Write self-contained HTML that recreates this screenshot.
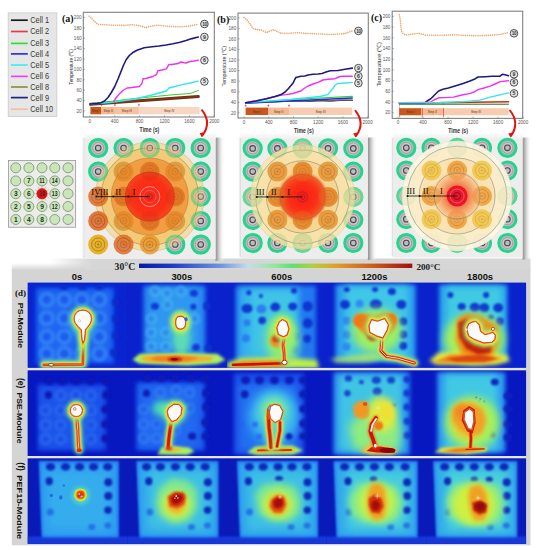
<!DOCTYPE html>
<html><head><meta charset="utf-8"><style>
html,body{margin:0;padding:0;background:#fff;width:538px;height:550px;overflow:hidden}
svg{display:block}
text{font-family:"Liberation Sans", sans-serif}
.se{font-family:"Liberation Serif", serif}
</style></head><body>
<svg width="538" height="550" viewBox="0 0 538 550">
<defs>
<filter id="b1" filterUnits="userSpaceOnUse" x="-600" y="-600" width="1800" height="1800"><feGaussianBlur stdDeviation="1"/></filter>
<filter id="b2" filterUnits="userSpaceOnUse" x="-600" y="-600" width="1800" height="1800"><feGaussianBlur stdDeviation="2"/></filter>
<filter id="b3" filterUnits="userSpaceOnUse" x="-600" y="-600" width="1800" height="1800"><feGaussianBlur stdDeviation="3"/></filter>
<filter id="b4" filterUnits="userSpaceOnUse" x="-600" y="-600" width="1800" height="1800"><feGaussianBlur stdDeviation="4.5"/></filter>
<filter id="b6" filterUnits="userSpaceOnUse" x="-600" y="-600" width="1800" height="1800"><feGaussianBlur stdDeviation="7"/></filter>
<filter id="b05" filterUnits="userSpaceOnUse" x="-600" y="-600" width="1800" height="1800"><feGaussianBlur stdDeviation="0.5"/></filter>
<filter id="b15" filterUnits="userSpaceOnUse" x="-600" y="-600" width="1800" height="1800"><feGaussianBlur stdDeviation="1.5"/></filter>
<linearGradient id="cbar" x1="0" x2="1" y1="0" y2="0">
 <stop offset="0" stop-color="#0a1a9a"/>
 <stop offset="0.12" stop-color="#1a3cc8"/>
 <stop offset="0.3" stop-color="#6f95de"/>
 <stop offset="0.4" stop-color="#c8dcea"/>
 <stop offset="0.5" stop-color="#8fe89a"/>
 <stop offset="0.56" stop-color="#5ee070"/>
 <stop offset="0.64" stop-color="#b8cc3a"/>
 <stop offset="0.72" stop-color="#e0a02a"/>
 <stop offset="0.86" stop-color="#cc5a1a"/>
 <stop offset="1" stop-color="#a01010"/>
</linearGradient>
</defs>
<rect width="538" height="550" fill="#fff"/>

<rect x="8.2" y="12.9" width="48.6" height="103.5" fill="#e6e6e6" stroke="#c8c8c8" stroke-width="0.8"/>
<line x1="10.9" y1="20.2" x2="27.8" y2="20.2" stroke="#1a1a1a" stroke-width="1.7"/>
<text x="30.2" y="23.2" font-size="8.6" fill="#383838" transform="translate(30.2 0) scale(0.86 1) translate(-30.2 0)">Cell 1</text>
<line x1="10.9" y1="31.5" x2="27.8" y2="31.5" stroke="#e04040" stroke-width="1.7"/>
<text x="30.2" y="34.5" font-size="8.6" fill="#383838" transform="translate(30.2 0) scale(0.86 1) translate(-30.2 0)">Cell 2</text>
<line x1="10.9" y1="43.4" x2="27.8" y2="43.4" stroke="#30e030" stroke-width="1.7"/>
<text x="30.2" y="46.4" font-size="8.6" fill="#383838" transform="translate(30.2 0) scale(0.86 1) translate(-30.2 0)">Cell 3</text>
<line x1="10.9" y1="53.9" x2="27.8" y2="53.9" stroke="#3030e0" stroke-width="1.7"/>
<text x="30.2" y="56.9" font-size="8.6" fill="#383838" transform="translate(30.2 0) scale(0.86 1) translate(-30.2 0)">Cell 4</text>
<line x1="10.9" y1="65.0" x2="27.8" y2="65.0" stroke="#40f0f0" stroke-width="1.7"/>
<text x="30.2" y="68.0" font-size="8.6" fill="#383838" transform="translate(30.2 0) scale(0.86 1) translate(-30.2 0)">Cell 5</text>
<line x1="10.9" y1="76.4" x2="27.8" y2="76.4" stroke="#f040f0" stroke-width="1.7"/>
<text x="30.2" y="79.4" font-size="8.6" fill="#383838" transform="translate(30.2 0) scale(0.86 1) translate(-30.2 0)">Cell 6</text>
<line x1="10.9" y1="87.0" x2="27.8" y2="87.0" stroke="#909040" stroke-width="1.7"/>
<text x="30.2" y="90.0" font-size="8.6" fill="#383838" transform="translate(30.2 0) scale(0.86 1) translate(-30.2 0)">Cell 8</text>
<line x1="10.9" y1="97.6" x2="27.8" y2="97.6" stroke="#202088" stroke-width="1.7"/>
<text x="30.2" y="100.6" font-size="8.6" fill="#383838" transform="translate(30.2 0) scale(0.86 1) translate(-30.2 0)">Cell 9</text>
<line x1="10.9" y1="109.2" x2="27.8" y2="109.2" stroke="#f0c0a0" stroke-width="1.7"/>
<text x="30.2" y="112.2" font-size="8.6" fill="#383838" transform="translate(30.2 0) scale(0.86 1) translate(-30.2 0)">Cell 10</text>
<rect x="83.3" y="12.3" width="131.0" height="104.7" fill="#fff" stroke="#808080" stroke-width="1.1"/>
<line x1="83.3" y1="111.00" x2="84.89999999999999" y2="111.00" stroke="#777" stroke-width="0.6"/>
<text x="81.5" y="112.70" font-size="4.6" fill="#555" text-anchor="end">20</text>
<line x1="83.3" y1="100.60" x2="84.89999999999999" y2="100.60" stroke="#777" stroke-width="0.6"/>
<text x="81.5" y="102.30" font-size="4.6" fill="#555" text-anchor="end">40</text>
<line x1="83.3" y1="90.20" x2="84.89999999999999" y2="90.20" stroke="#777" stroke-width="0.6"/>
<text x="81.5" y="91.90" font-size="4.6" fill="#555" text-anchor="end">60</text>
<line x1="83.3" y1="79.80" x2="84.89999999999999" y2="79.80" stroke="#777" stroke-width="0.6"/>
<text x="81.5" y="81.50" font-size="4.6" fill="#555" text-anchor="end">80</text>
<line x1="83.3" y1="69.40" x2="84.89999999999999" y2="69.40" stroke="#777" stroke-width="0.6"/>
<text x="81.5" y="71.10" font-size="4.6" fill="#555" text-anchor="end">100</text>
<line x1="83.3" y1="59.00" x2="84.89999999999999" y2="59.00" stroke="#777" stroke-width="0.6"/>
<text x="81.5" y="60.70" font-size="4.6" fill="#555" text-anchor="end">120</text>
<line x1="83.3" y1="48.60" x2="84.89999999999999" y2="48.60" stroke="#777" stroke-width="0.6"/>
<text x="81.5" y="50.30" font-size="4.6" fill="#555" text-anchor="end">140</text>
<line x1="83.3" y1="38.20" x2="84.89999999999999" y2="38.20" stroke="#777" stroke-width="0.6"/>
<text x="81.5" y="39.90" font-size="4.6" fill="#555" text-anchor="end">160</text>
<line x1="83.3" y1="27.80" x2="84.89999999999999" y2="27.80" stroke="#777" stroke-width="0.6"/>
<text x="81.5" y="29.50" font-size="4.6" fill="#555" text-anchor="end">180</text>
<line x1="83.3" y1="17.40" x2="84.89999999999999" y2="17.40" stroke="#777" stroke-width="0.6"/>
<text x="81.5" y="19.10" font-size="4.6" fill="#555" text-anchor="end">200</text>
<line x1="89.80" y1="117.0" x2="89.80" y2="115.4" stroke="#777" stroke-width="0.6"/>
<text x="89.80" y="122.8" font-size="4.6" fill="#555" text-anchor="middle">0</text>
<line x1="114.70" y1="117.0" x2="114.70" y2="115.4" stroke="#777" stroke-width="0.6"/>
<text x="114.70" y="122.8" font-size="4.6" fill="#555" text-anchor="middle">400</text>
<line x1="139.60" y1="117.0" x2="139.60" y2="115.4" stroke="#777" stroke-width="0.6"/>
<text x="139.60" y="122.8" font-size="4.6" fill="#555" text-anchor="middle">800</text>
<line x1="164.50" y1="117.0" x2="164.50" y2="115.4" stroke="#777" stroke-width="0.6"/>
<text x="164.50" y="122.8" font-size="4.6" fill="#555" text-anchor="middle">1200</text>
<line x1="189.40" y1="117.0" x2="189.40" y2="115.4" stroke="#777" stroke-width="0.6"/>
<text x="189.40" y="122.8" font-size="4.6" fill="#555" text-anchor="middle">1600</text>
<line x1="214.30" y1="117.0" x2="214.30" y2="115.4" stroke="#777" stroke-width="0.6"/>
<text x="214.30" y="122.8" font-size="4.6" fill="#555" text-anchor="middle">2000</text>
<g transform="translate(149.4 131.6) scale(0.78 1)"><text x="0" y="0" font-size="6.6" font-weight="bold" fill="#333" text-anchor="middle">Time (s)</text></g>
<g transform="translate(72.9 66.8) rotate(-90) scale(0.81 1)"><text x="0" y="0" font-size="5.9" fill="#333" text-anchor="middle">Temperature (&#8451;)</text></g>
<text class="se" x="62" y="22" font-size="10" font-weight="bold" fill="#111">(a)</text>
<rect x="90.4" y="106.9" width="11.0" height="7.3999999999999915" fill="#c8581e"/>
<text x="95.9" y="111.8" font-size="3.2" fill="#5a3010" text-anchor="middle">Step I</text>
<rect x="101.4" y="106.9" width="13.5" height="7.3999999999999915" fill="#f4b892"/>
<text x="108.2" y="111.8" font-size="3.2" fill="#5a3010" text-anchor="middle">Step II</text>
<rect x="114.9" y="106.9" width="24.0" height="7.3999999999999915" fill="#f6c2a4"/>
<text x="126.9" y="111.8" font-size="3.2" fill="#5a3010" text-anchor="middle">Step III</text>
<rect x="138.9" y="106.9" width="60.599999999999994" height="7.3999999999999915" fill="#f9d6c2"/>
<text x="169.2" y="111.8" font-size="3.2" fill="#5a3010" text-anchor="middle">Step IV</text>
<path d="M90.4 103.7 v2.4 M89.4 104.9 h2" stroke="#e03030" stroke-width="0.6"/>
<path d="M101.4 103.7 v2.4 M100.4 104.9 h2" stroke="#e03030" stroke-width="0.6"/>
<path d="M114.9 103.7 v2.4 M113.9 104.9 h2" stroke="#e03030" stroke-width="0.6"/>
<path d="M138.9 103.7 v2.4 M137.9 104.9 h2" stroke="#e03030" stroke-width="0.6"/>
<path d="M89.1 16.1 L91.0 17.5 L94.0 21.0 L97.7 24.2 L105.0 24.8 L115.0 25.3 L125.0 25.4 L132.0 24.7 L140.0 25.8 L145.6 27.7 L150.0 26.4 L156.6 25.2 L165.0 26.0 L172.0 26.6 L181.0 26.8 L190.0 26.0 L198.3 24.2" fill="none" stroke="#f0a468" stroke-width="1.6" stroke-linejoin="round" stroke-linecap="round" stroke-dasharray="0.01 2.1"/>
<path d="M90.4 104.2 L198.3 96.5" fill="none" stroke="#5a3a10" stroke-width="3.0" stroke-linejoin="round" stroke-linecap="round"/>
<path d="M90.4 104.2 L198.3 96.5" fill="none" stroke="#b02020" stroke-width="1.2" stroke-linejoin="round" stroke-linecap="round"/>
<path d="M90.4 104.0 L130.0 99.0 L170.0 95.0 L190.0 93.5 L198.3 90.5" fill="none" stroke="#30d030" stroke-width="1.0" stroke-linejoin="round" stroke-linecap="round"/>
<path d="M90.4 104.0 L110.0 102.5 L132.0 99.5 L150.0 95.5 L166.4 91.0 L168.9 88.0 L175.0 86.5 L181.0 84.8 L190.0 83.0 L198.3 81.1" fill="none" stroke="#30e8e8" stroke-width="1.3" stroke-linejoin="round" stroke-linecap="round"/>
<path d="M113.7 101.3 L116.0 98.0 L119.8 93.4 L123.0 90.5 L127.2 88.0 L132.0 87.5 L139.4 86.5 L141.9 83.6 L143.1 78.7 L146.0 78.5 L149.2 77.5 L153.0 76.5 L156.6 74.3 L157.8 70.8 L162.0 70.0 L166.4 68.9 L168.9 64.5 L172.0 64.5 L175.0 64.0 L178.0 63.5 L181.0 62.0 L184.0 62.8 L186.0 63.0 L190.0 61.5 L194.0 61.0 L198.3 60.3" fill="none" stroke="#f030f0" stroke-width="1.4" stroke-linejoin="round" stroke-linecap="round"/>
<path d="M90.4 104.0 L97.0 103.6 L101.0 102.8 L104.5 101.0 L108.0 97.5 L111.0 93.0 L114.5 87.0 L118.0 79.0 L121.0 71.5 L123.6 65.0 L126.3 59.5 L129.3 55.5 L132.5 52.8 L137.0 50.2 L144.2 47.8 L152.0 46.8 L159.0 46.0 L166.0 45.0 L173.0 43.8 L180.0 42.3 L186.0 40.6 L192.0 38.6 L198.3 37.0" fill="none" stroke="#1c1c80" stroke-width="1.6" stroke-linejoin="round" stroke-linecap="round"/>
<circle cx="204.4" cy="24" r="3.8" fill="#e4e4e4" stroke="#505050" stroke-width="1.0"/>
<text x="204.4" y="25.9" font-size="4.6" font-weight="bold" fill="#333" text-anchor="middle" letter-spacing="-0.4">10</text>
<circle cx="204.4" cy="37" r="3.8" fill="#e4e4e4" stroke="#505050" stroke-width="1.0"/>
<text x="204.4" y="38.9" font-size="5.2" font-weight="bold" fill="#333" text-anchor="middle">9</text>
<circle cx="204.4" cy="60.3" r="3.8" fill="#e4e4e4" stroke="#505050" stroke-width="1.0"/>
<text x="204.4" y="62.199999999999996" font-size="5.2" font-weight="bold" fill="#333" text-anchor="middle">6</text>
<circle cx="204.4" cy="81.5" r="3.8" fill="#e4e4e4" stroke="#505050" stroke-width="1.0"/>
<text x="204.4" y="83.4" font-size="5.2" font-weight="bold" fill="#333" text-anchor="middle">5</text>
<rect x="238.0" y="13.1" width="130.3" height="104.9" fill="#fff" stroke="#808080" stroke-width="1.1"/>
<line x1="238.0" y1="112.80" x2="239.6" y2="112.80" stroke="#777" stroke-width="0.6"/>
<text x="236.2" y="114.50" font-size="4.6" fill="#555" text-anchor="end">20</text>
<line x1="238.0" y1="102.25" x2="239.6" y2="102.25" stroke="#777" stroke-width="0.6"/>
<text x="236.2" y="103.95" font-size="4.6" fill="#555" text-anchor="end">40</text>
<line x1="238.0" y1="91.69" x2="239.6" y2="91.69" stroke="#777" stroke-width="0.6"/>
<text x="236.2" y="93.39" font-size="4.6" fill="#555" text-anchor="end">60</text>
<line x1="238.0" y1="81.14" x2="239.6" y2="81.14" stroke="#777" stroke-width="0.6"/>
<text x="236.2" y="82.84" font-size="4.6" fill="#555" text-anchor="end">80</text>
<line x1="238.0" y1="70.58" x2="239.6" y2="70.58" stroke="#777" stroke-width="0.6"/>
<text x="236.2" y="72.28" font-size="4.6" fill="#555" text-anchor="end">100</text>
<line x1="238.0" y1="60.02" x2="239.6" y2="60.02" stroke="#777" stroke-width="0.6"/>
<text x="236.2" y="61.72" font-size="4.6" fill="#555" text-anchor="end">120</text>
<line x1="238.0" y1="49.47" x2="239.6" y2="49.47" stroke="#777" stroke-width="0.6"/>
<text x="236.2" y="51.17" font-size="4.6" fill="#555" text-anchor="end">140</text>
<line x1="238.0" y1="38.91" x2="239.6" y2="38.91" stroke="#777" stroke-width="0.6"/>
<text x="236.2" y="40.61" font-size="4.6" fill="#555" text-anchor="end">160</text>
<line x1="238.0" y1="28.36" x2="239.6" y2="28.36" stroke="#777" stroke-width="0.6"/>
<text x="236.2" y="30.06" font-size="4.6" fill="#555" text-anchor="end">180</text>
<line x1="238.0" y1="17.80" x2="239.6" y2="17.80" stroke="#777" stroke-width="0.6"/>
<text x="236.2" y="19.50" font-size="4.6" fill="#555" text-anchor="end">200</text>
<line x1="244.10" y1="118.0" x2="244.10" y2="116.4" stroke="#777" stroke-width="0.6"/>
<text x="244.10" y="123.8" font-size="4.6" fill="#555" text-anchor="middle">0</text>
<line x1="268.80" y1="118.0" x2="268.80" y2="116.4" stroke="#777" stroke-width="0.6"/>
<text x="268.80" y="123.8" font-size="4.6" fill="#555" text-anchor="middle">400</text>
<line x1="293.50" y1="118.0" x2="293.50" y2="116.4" stroke="#777" stroke-width="0.6"/>
<text x="293.50" y="123.8" font-size="4.6" fill="#555" text-anchor="middle">800</text>
<line x1="318.20" y1="118.0" x2="318.20" y2="116.4" stroke="#777" stroke-width="0.6"/>
<text x="318.20" y="123.8" font-size="4.6" fill="#555" text-anchor="middle">1200</text>
<line x1="342.90" y1="118.0" x2="342.90" y2="116.4" stroke="#777" stroke-width="0.6"/>
<text x="342.90" y="123.8" font-size="4.6" fill="#555" text-anchor="middle">1600</text>
<line x1="367.60" y1="118.0" x2="367.60" y2="116.4" stroke="#777" stroke-width="0.6"/>
<text x="367.60" y="123.8" font-size="4.6" fill="#555" text-anchor="middle">2000</text>
<g transform="translate(303.8 132.6) scale(0.78 1)"><text x="0" y="0" font-size="6.6" font-weight="bold" fill="#333" text-anchor="middle">Time (s)</text></g>
<g transform="translate(226.0 66.2) rotate(-90) scale(0.9 1)"><text x="0" y="0" font-size="5.9" fill="#333" text-anchor="middle">Temperature (&#8451;)</text></g>
<text class="se" x="217" y="22.5" font-size="10" font-weight="bold" fill="#111">(b)</text>
<rect x="245.6" y="107.6" width="22.799999999999983" height="7.400000000000006" fill="#c8581e"/>
<text x="257.0" y="112.5" font-size="3.2" fill="#5a3010" text-anchor="middle">Step I</text>
<rect x="268.4" y="107.6" width="20.600000000000023" height="7.400000000000006" fill="#f4b892"/>
<text x="278.7" y="112.5" font-size="3.2" fill="#5a3010" text-anchor="middle">Step II</text>
<rect x="289.0" y="107.6" width="63.30000000000001" height="7.400000000000006" fill="#f8ccb0"/>
<text x="320.6" y="112.5" font-size="3.2" fill="#5a3010" text-anchor="middle">Step III</text>
<path d="M245.6 104.39999999999999 v2.4 M244.6 105.6 h2" stroke="#e03030" stroke-width="0.6"/>
<path d="M268.4 104.39999999999999 v2.4 M267.4 105.6 h2" stroke="#e03030" stroke-width="0.6"/>
<path d="M289.0 104.39999999999999 v2.4 M288.0 105.6 h2" stroke="#e03030" stroke-width="0.6"/>
<path d="M243.9 17.4 L247.0 20.0 L250.5 24.7 L253.0 28.4 L257.0 29.5 L261.5 30.1 L266.4 32.6 L270.0 31.0 L273.8 29.6 L277.0 31.5 L281.2 33.3 L290.0 33.2 L298.3 32.6 L305.0 33.3 L311.0 33.6 L320.0 34.0 L330.2 34.5 L340.0 34.0 L345.0 33.5 L352.3 30.9" fill="none" stroke="#f0a468" stroke-width="1.6" stroke-linejoin="round" stroke-linecap="round" stroke-dasharray="0.01 2.1"/>
<path d="M245.6 103.0 L290.0 101.0 L300.0 100.6 L310.0 101.2 L320.0 100.5 L330.0 101.0 L340.0 100.2 L352.3 100.3" fill="none" stroke="#333" stroke-width="1.6" stroke-linejoin="round" stroke-linecap="round"/>
<path d="M245.6 103.0 L290.0 101.0 L300.0 100.6 L310.0 101.2 L320.0 100.5 L330.0 101.0 L340.0 100.2 L352.3 100.3" fill="none" stroke="#8a8a8a" stroke-width="0.6" stroke-linejoin="round" stroke-linecap="round"/>
<path d="M245.6 102.7 L300.0 99.0 L352.3 96.4" fill="none" stroke="#30d030" stroke-width="1.1" stroke-linejoin="round" stroke-linecap="round"/>
<path d="M245.6 103.0 L300.0 100.5 L352.3 98.0" fill="none" stroke="#2a2ad8" stroke-width="1.3" stroke-linejoin="round" stroke-linecap="round"/>
<path d="M245.6 102.7 L290.0 99.5 L320.0 96.5 L327.8 94.6 L330.0 92.0 L332.7 88.5 L335.0 85.5 L337.6 83.6 L345.0 83.0 L352.3 82.4" fill="none" stroke="#30e8e8" stroke-width="1.3" stroke-linejoin="round" stroke-linecap="round"/>
<path d="M245.6 102.7 L266.4 98.8 L281.2 95.0 L286.1 94.6 L293.0 93.5 L300.8 91.0 L304.0 88.5 L308.1 86.0 L313.0 84.0 L318.0 82.4 L322.9 80.0 L328.0 79.3 L335.1 78.7 L340.0 76.5 L343.0 76.2 L352.3 76.2" fill="none" stroke="#f030f0" stroke-width="1.4" stroke-linejoin="round" stroke-linecap="round"/>
<path d="M245.6 102.7 L256.0 101.0 L266.4 98.8 L275.0 96.5 L281.2 94.6 L285.0 92.0 L288.5 88.5 L291.0 85.5 L293.4 82.4 L295.0 79.0 L295.9 77.5 L300.8 76.2 L305.0 76.0 L308.0 75.0 L313.0 74.3 L318.0 74.0 L322.0 73.5 L326.0 72.0 L330.2 70.8 L338.0 70.5 L345.0 69.2 L352.3 68.1" fill="none" stroke="#1c1c80" stroke-width="1.6" stroke-linejoin="round" stroke-linecap="round"/>
<circle cx="358.4" cy="30.9" r="3.8" fill="#e4e4e4" stroke="#505050" stroke-width="1.0"/>
<text x="358.4" y="32.8" font-size="4.6" font-weight="bold" fill="#333" text-anchor="middle" letter-spacing="-0.4">10</text>
<circle cx="358.4" cy="68.1" r="3.8" fill="#e4e4e4" stroke="#505050" stroke-width="1.0"/>
<text x="358.4" y="70.0" font-size="5.2" font-weight="bold" fill="#333" text-anchor="middle">9</text>
<circle cx="358.4" cy="76.2" r="3.8" fill="#e4e4e4" stroke="#505050" stroke-width="1.0"/>
<text x="358.4" y="78.10000000000001" font-size="5.2" font-weight="bold" fill="#333" text-anchor="middle">6</text>
<circle cx="358.4" cy="83.1" r="3.8" fill="#e4e4e4" stroke="#505050" stroke-width="1.0"/>
<text x="358.4" y="85.0" font-size="5.2" font-weight="bold" fill="#333" text-anchor="middle">5</text>
<rect x="392.2" y="11.2" width="130.50000000000006" height="107.2" fill="#fff" stroke="#808080" stroke-width="1.1"/>
<line x1="392.2" y1="112.70" x2="393.8" y2="112.70" stroke="#777" stroke-width="0.6"/>
<text x="390.4" y="114.40" font-size="4.6" fill="#555" text-anchor="end">20</text>
<line x1="392.2" y1="102.00" x2="393.8" y2="102.00" stroke="#777" stroke-width="0.6"/>
<text x="390.4" y="103.70" font-size="4.6" fill="#555" text-anchor="end">40</text>
<line x1="392.2" y1="91.30" x2="393.8" y2="91.30" stroke="#777" stroke-width="0.6"/>
<text x="390.4" y="93.00" font-size="4.6" fill="#555" text-anchor="end">60</text>
<line x1="392.2" y1="80.60" x2="393.8" y2="80.60" stroke="#777" stroke-width="0.6"/>
<text x="390.4" y="82.30" font-size="4.6" fill="#555" text-anchor="end">80</text>
<line x1="392.2" y1="69.90" x2="393.8" y2="69.90" stroke="#777" stroke-width="0.6"/>
<text x="390.4" y="71.60" font-size="4.6" fill="#555" text-anchor="end">100</text>
<line x1="392.2" y1="59.20" x2="393.8" y2="59.20" stroke="#777" stroke-width="0.6"/>
<text x="390.4" y="60.90" font-size="4.6" fill="#555" text-anchor="end">120</text>
<line x1="392.2" y1="48.50" x2="393.8" y2="48.50" stroke="#777" stroke-width="0.6"/>
<text x="390.4" y="50.20" font-size="4.6" fill="#555" text-anchor="end">140</text>
<line x1="392.2" y1="37.80" x2="393.8" y2="37.80" stroke="#777" stroke-width="0.6"/>
<text x="390.4" y="39.50" font-size="4.6" fill="#555" text-anchor="end">160</text>
<line x1="392.2" y1="27.10" x2="393.8" y2="27.10" stroke="#777" stroke-width="0.6"/>
<text x="390.4" y="28.80" font-size="4.6" fill="#555" text-anchor="end">180</text>
<line x1="392.2" y1="16.40" x2="393.8" y2="16.40" stroke="#777" stroke-width="0.6"/>
<text x="390.4" y="18.10" font-size="4.6" fill="#555" text-anchor="end">200</text>
<line x1="398.10" y1="118.4" x2="398.10" y2="116.80000000000001" stroke="#777" stroke-width="0.6"/>
<text x="398.10" y="124.2" font-size="4.6" fill="#555" text-anchor="middle">0</text>
<line x1="423.10" y1="118.4" x2="423.10" y2="116.80000000000001" stroke="#777" stroke-width="0.6"/>
<text x="423.10" y="124.2" font-size="4.6" fill="#555" text-anchor="middle">400</text>
<line x1="448.10" y1="118.4" x2="448.10" y2="116.80000000000001" stroke="#777" stroke-width="0.6"/>
<text x="448.10" y="124.2" font-size="4.6" fill="#555" text-anchor="middle">800</text>
<line x1="473.10" y1="118.4" x2="473.10" y2="116.80000000000001" stroke="#777" stroke-width="0.6"/>
<text x="473.10" y="124.2" font-size="4.6" fill="#555" text-anchor="middle">1200</text>
<line x1="498.10" y1="118.4" x2="498.10" y2="116.80000000000001" stroke="#777" stroke-width="0.6"/>
<text x="498.10" y="124.2" font-size="4.6" fill="#555" text-anchor="middle">1600</text>
<line x1="523.10" y1="118.4" x2="523.10" y2="116.80000000000001" stroke="#777" stroke-width="0.6"/>
<text x="523.10" y="124.2" font-size="4.6" fill="#555" text-anchor="middle">2000</text>
<g transform="translate(458.1 133.0) scale(0.78 1)"><text x="0" y="0" font-size="6.6" font-weight="bold" fill="#333" text-anchor="middle">Time (s)</text></g>
<g transform="translate(380.7 64.3) rotate(-90) scale(1.0 1)"><text x="0" y="0" font-size="5.9" fill="#333" text-anchor="middle">Temperature (&#8451;)</text></g>
<text class="se" x="371" y="21" font-size="10" font-weight="bold" fill="#111">(c)</text>
<rect x="399.4" y="108.1" width="22.0" height="7.200000000000003" fill="#c8581e"/>
<text x="410.4" y="112.9" font-size="3.2" fill="#5a3010" text-anchor="middle">Step I</text>
<rect x="421.4" y="108.1" width="22.100000000000023" height="7.200000000000003" fill="#f4b892"/>
<text x="432.4" y="112.9" font-size="3.2" fill="#5a3010" text-anchor="middle">Step II</text>
<rect x="443.5" y="108.1" width="65.0" height="7.200000000000003" fill="#f8ccb0"/>
<text x="476.0" y="112.9" font-size="3.2" fill="#5a3010" text-anchor="middle">Step III</text>
<path d="M399.6 103.4 V117.3 M422.3 103.4 V117.3 M443.5 103.4 V117.3" stroke="#e02020" stroke-width="0.6"/>
<rect x="399.6" y="104.4" width="108.9" height="3.7" fill="#fff"/>
<path d="M399.4 14.9 L400.3 20.0 L400.8 26.0 L401.8 32.1 L404.0 34.3 L406.7 35.0 L412.0 34.2 L419.0 33.3 L423.0 34.3 L426.3 35.3 L440.0 35.3 L455.0 34.8 L470.0 35.6 L480.0 35.8 L490.0 35.2 L500.0 34.5 L507.3 32.8" fill="none" stroke="#f0a468" stroke-width="1.6" stroke-linejoin="round" stroke-linecap="round" stroke-dasharray="0.01 2.1"/>
<path d="M399.4 103.3 L508.5 101.8" fill="none" stroke="#c83010" stroke-width="1.6" stroke-linejoin="round" stroke-linecap="round"/>
<path d="M399.4 104.2 L508.5 104.2" fill="none" stroke="#207020" stroke-width="1.0" stroke-linejoin="round" stroke-linecap="round"/>
<path d="M399.4 102.7 L425.1 102.7 L428.0 100.5 L431.3 98.3 L435.0 94.5 L438.6 91.0 L443.0 89.3 L448.4 88.0 L455.0 86.0 L463.1 83.6 L470.0 81.0 L475.4 78.7 L478.0 77.0 L485.2 76.7 L492.0 76.3 L500.0 76.2 L502.4 74.3 L505.0 74.8 L508.5 75.8" fill="none" stroke="#1c1c80" stroke-width="1.6" stroke-linejoin="round" stroke-linecap="round"/>
<path d="M399.4 102.7 L430.0 102.5 L434.0 100.0 L438.6 97.8 L445.0 97.6 L453.3 97.1 L462.0 95.0 L470.5 93.4 L475.0 91.5 L477.9 89.7 L484.0 88.0 L490.1 86.1 L495.0 84.0 L500.0 81.6 L508.5 80.7" fill="none" stroke="#f030f0" stroke-width="1.4" stroke-linejoin="round" stroke-linecap="round"/>
<path d="M399.4 102.7 L440.0 102.5 L465.0 101.6 L480.0 100.2 L490.1 97.1 L500.0 94.8 L508.5 92.9" fill="none" stroke="#30e8e8" stroke-width="1.3" stroke-linejoin="round" stroke-linecap="round"/>
<circle cx="514" cy="33.3" r="3.8" fill="#e4e4e4" stroke="#505050" stroke-width="1.0"/>
<text x="514" y="35.199999999999996" font-size="4.6" font-weight="bold" fill="#333" text-anchor="middle" letter-spacing="-0.4">10</text>
<circle cx="514" cy="74.3" r="3.8" fill="#e4e4e4" stroke="#505050" stroke-width="1.0"/>
<text x="514" y="76.2" font-size="5.2" font-weight="bold" fill="#333" text-anchor="middle">9</text>
<circle cx="514" cy="82.4" r="3.8" fill="#e4e4e4" stroke="#505050" stroke-width="1.0"/>
<text x="514" y="84.30000000000001" font-size="5.2" font-weight="bold" fill="#333" text-anchor="middle">6</text>
<circle cx="514" cy="93.4" r="3.8" fill="#e4e4e4" stroke="#505050" stroke-width="1.0"/>
<text x="514" y="95.30000000000001" font-size="5.2" font-weight="bold" fill="#333" text-anchor="middle">5</text>
<rect x="8.5" y="160.5" width="67.2" height="66.7" fill="#ececec" stroke="#8a8a8a" stroke-width="0.7"/>
<circle cx="15.8" cy="167.8" r="5.0" fill="#c8e6b8" stroke="#7f9a74" stroke-width="0.9"/>
<circle cx="28.9" cy="167.8" r="5.0" fill="#c8e6b8" stroke="#7f9a74" stroke-width="0.9"/>
<circle cx="42.0" cy="167.8" r="5.0" fill="#c8e6b8" stroke="#7f9a74" stroke-width="0.9"/>
<circle cx="54.8" cy="167.8" r="5.0" fill="#c8e6b8" stroke="#7f9a74" stroke-width="0.9"/>
<circle cx="68.0" cy="167.8" r="5.0" fill="#c8e6b8" stroke="#7f9a74" stroke-width="0.9"/>
<circle cx="15.8" cy="180.9" r="5.0" fill="#c8e6b8" stroke="#7f9a74" stroke-width="0.9"/>
<circle cx="28.9" cy="180.9" r="5.0" fill="#c8e6b8" stroke="#7f9a74" stroke-width="0.9"/>
<text x="28.9" y="183.4" font-size="7.0" font-weight="bold" fill="#2a2a2a" text-anchor="middle" transform="translate(28.9 0) scale(0.95 1) translate(-28.9 0)">7</text>
<circle cx="42.0" cy="180.9" r="5.0" fill="#c8e6b8" stroke="#7f9a74" stroke-width="0.9"/>
<text x="42.0" y="183.4" font-size="6.6" font-weight="bold" fill="#2a2a2a" text-anchor="middle" transform="translate(42.0 0) scale(0.8 1) translate(-42.0 0)">11</text>
<circle cx="54.8" cy="180.9" r="5.0" fill="#c8e6b8" stroke="#7f9a74" stroke-width="0.9"/>
<text x="54.8" y="183.4" font-size="6.6" font-weight="bold" fill="#2a2a2a" text-anchor="middle" transform="translate(54.8 0) scale(0.8 1) translate(-54.8 0)">14</text>
<circle cx="68.0" cy="180.9" r="5.0" fill="#c8e6b8" stroke="#7f9a74" stroke-width="0.9"/>
<circle cx="15.8" cy="193.7" r="5.0" fill="#c8e6b8" stroke="#7f9a74" stroke-width="0.9"/>
<text x="15.8" y="196.2" font-size="7.0" font-weight="bold" fill="#2a2a2a" text-anchor="middle" transform="translate(15.8 0) scale(0.95 1) translate(-15.8 0)">3</text>
<circle cx="28.9" cy="193.7" r="5.0" fill="#c8e6b8" stroke="#7f9a74" stroke-width="0.9"/>
<text x="28.9" y="196.2" font-size="7.0" font-weight="bold" fill="#2a2a2a" text-anchor="middle" transform="translate(28.9 0) scale(0.95 1) translate(-28.9 0)">6</text>
<line x1="47.00" y1="193.70" x2="50.00" y2="193.70" stroke="#f08080" stroke-width="0.5"/>
<line x1="46.33" y1="196.20" x2="48.93" y2="197.70" stroke="#f08080" stroke-width="0.5"/>
<line x1="44.50" y1="198.03" x2="46.00" y2="200.63" stroke="#f08080" stroke-width="0.5"/>
<line x1="42.00" y1="198.70" x2="42.00" y2="201.70" stroke="#f08080" stroke-width="0.5"/>
<line x1="39.50" y1="198.03" x2="38.00" y2="200.63" stroke="#f08080" stroke-width="0.5"/>
<line x1="37.67" y1="196.20" x2="35.07" y2="197.70" stroke="#f08080" stroke-width="0.5"/>
<line x1="37.00" y1="193.70" x2="34.00" y2="193.70" stroke="#f08080" stroke-width="0.5"/>
<line x1="37.67" y1="191.20" x2="35.07" y2="189.70" stroke="#f08080" stroke-width="0.5"/>
<line x1="39.50" y1="189.37" x2="38.00" y2="186.77" stroke="#f08080" stroke-width="0.5"/>
<line x1="42.00" y1="188.70" x2="42.00" y2="185.70" stroke="#f08080" stroke-width="0.5"/>
<line x1="44.50" y1="189.37" x2="46.00" y2="186.77" stroke="#f08080" stroke-width="0.5"/>
<line x1="46.33" y1="191.20" x2="48.93" y2="189.70" stroke="#f08080" stroke-width="0.5"/>
<circle cx="42.0" cy="193.7" r="5.2" fill="#e01010" stroke="#c00" stroke-width="0.5"/>
<text x="42.0" y="196.2" font-size="6.6" font-weight="bold" fill="#2a2a2a" text-anchor="middle" transform="translate(42.0 0) scale(0.8 1) translate(-42.0 0)">10</text>
<circle cx="54.8" cy="193.7" r="5.0" fill="#c8e6b8" stroke="#7f9a74" stroke-width="0.9"/>
<text x="54.8" y="196.2" font-size="6.6" font-weight="bold" fill="#2a2a2a" text-anchor="middle" transform="translate(54.8 0) scale(0.8 1) translate(-54.8 0)">13</text>
<circle cx="68.0" cy="193.7" r="5.0" fill="#c8e6b8" stroke="#7f9a74" stroke-width="0.9"/>
<circle cx="15.8" cy="206.5" r="5.0" fill="#c8e6b8" stroke="#7f9a74" stroke-width="0.9"/>
<text x="15.8" y="209.0" font-size="7.0" font-weight="bold" fill="#2a2a2a" text-anchor="middle" transform="translate(15.8 0) scale(0.95 1) translate(-15.8 0)">2</text>
<circle cx="28.9" cy="206.5" r="5.0" fill="#c8e6b8" stroke="#7f9a74" stroke-width="0.9"/>
<text x="28.9" y="209.0" font-size="7.0" font-weight="bold" fill="#2a2a2a" text-anchor="middle" transform="translate(28.9 0) scale(0.95 1) translate(-28.9 0)">5</text>
<circle cx="42.0" cy="206.5" r="5.0" fill="#c8e6b8" stroke="#7f9a74" stroke-width="0.9"/>
<text x="42.0" y="209.0" font-size="7.0" font-weight="bold" fill="#2a2a2a" text-anchor="middle" transform="translate(42.0 0) scale(0.95 1) translate(-42.0 0)">9</text>
<circle cx="54.8" cy="206.5" r="5.0" fill="#c8e6b8" stroke="#7f9a74" stroke-width="0.9"/>
<text x="54.8" y="209.0" font-size="6.6" font-weight="bold" fill="#2a2a2a" text-anchor="middle" transform="translate(54.8 0) scale(0.8 1) translate(-54.8 0)">12</text>
<circle cx="68.0" cy="206.5" r="5.0" fill="#c8e6b8" stroke="#7f9a74" stroke-width="0.9"/>
<circle cx="15.8" cy="219.5" r="5.0" fill="#c8e6b8" stroke="#7f9a74" stroke-width="0.9"/>
<text x="15.8" y="222.0" font-size="7.0" font-weight="bold" fill="#2a2a2a" text-anchor="middle" transform="translate(15.8 0) scale(0.95 1) translate(-15.8 0)">1</text>
<circle cx="28.9" cy="219.5" r="5.0" fill="#c8e6b8" stroke="#7f9a74" stroke-width="0.9"/>
<text x="28.9" y="222.0" font-size="7.0" font-weight="bold" fill="#2a2a2a" text-anchor="middle" transform="translate(28.9 0) scale(0.95 1) translate(-28.9 0)">4</text>
<circle cx="42.0" cy="219.5" r="5.0" fill="#c8e6b8" stroke="#7f9a74" stroke-width="0.9"/>
<text x="42.0" y="222.0" font-size="7.0" font-weight="bold" fill="#2a2a2a" text-anchor="middle" transform="translate(42.0 0) scale(0.95 1) translate(-42.0 0)">8</text>
<circle cx="54.8" cy="219.5" r="5.0" fill="#c8e6b8" stroke="#7f9a74" stroke-width="0.9"/>
<circle cx="68.0" cy="219.5" r="5.0" fill="#c8e6b8" stroke="#7f9a74" stroke-width="0.9"/>
<defs><linearGradient id="gbh" gradientUnits="userSpaceOnUse" x1="50" x2="92" y1="0" y2="0"><stop offset="0" stop-color="#d6d6d6" stop-opacity="0"/><stop offset="1" stop-color="#d6d6d6"/></linearGradient><linearGradient id="gbv" x1="0" x2="0" y1="0" y2="1"><stop offset="0" stop-color="#d4d4d4" stop-opacity="0"/><stop offset="1" stop-color="#d4d4d4"/></linearGradient></defs>
<rect x="50" y="258.5" width="480.5" height="12" fill="url(#gbh)"/>
<rect x="11.8" y="263" width="75" height="7.2" fill="url(#gbv)"/>
<rect x="11.8" y="270" width="518.7" height="275.3" fill="#d4d4d4"/>
<defs><linearGradient id="shR" x1="0" x2="1"><stop offset="0" stop-color="#8c8c8c"/><stop offset="0.35" stop-color="#c8c8c8"/><stop offset="1" stop-color="#ffffff" stop-opacity="0"/></linearGradient><linearGradient id="shL" x1="1" x2="0"><stop offset="0" stop-color="#c8c8c8"/><stop offset="1" stop-color="#ffffff" stop-opacity="0"/></linearGradient><linearGradient id="shT" x1="0" x2="0" y1="0" y2="1"><stop offset="0" stop-color="#fafafa"/><stop offset="1" stop-color="#ededed"/></linearGradient></defs>
<defs><radialGradient id="rga"><stop offset="0" stop-color="#ff2418"/><stop offset="0.7" stop-color="#fa3018"/><stop offset="1" stop-color="#f04a1c"/></radialGradient><radialGradient id="rgb"><stop offset="0" stop-color="#ff1a10"/><stop offset="0.6" stop-color="#fa3018"/><stop offset="0.85" stop-color="#f25020"/><stop offset="1" stop-color="#f06828" stop-opacity="0.9"/></radialGradient><radialGradient id="rgc"><stop offset="0" stop-color="#f04a2a"/><stop offset="0.4" stop-color="#f27a48"/><stop offset="0.75" stop-color="#f5a868" stop-opacity="0.6"/><stop offset="1" stop-color="#f6c890" stop-opacity="0"/></radialGradient></defs>
<rect x="215.5" y="137.5" width="9" height="123.5" fill="url(#shR)"/>
<rect x="81.5" y="137.5" width="3" height="120.5" fill="url(#shL)"/>
<rect x="84.5" y="134.5" width="131.0" height="124.5" fill="#ededed"/>
<rect x="84.5" y="134.5" width="131.0" height="5" fill="url(#shT)"/>
<circle cx="98.20" cy="148.00" r="8.6" fill="#c4bcc2" stroke="#22d48c" stroke-width="3.0"/>
<circle cx="98.20" cy="148.00" r="5.6" fill="none" stroke="#a49aa2" stroke-width="0.9"/>
<circle cx="98.20" cy="148.00" r="4.2" fill="none" stroke="#d8d0d6" stroke-width="0.7"/>
<circle cx="98.20" cy="148.00" r="2.8" fill="#bdbdbd" stroke="#4a4a4a" stroke-width="1.1"/>
<circle cx="123.60" cy="148.00" r="8.6" fill="#c4bcc2" stroke="#22d48c" stroke-width="3.0"/>
<circle cx="123.60" cy="148.00" r="5.6" fill="none" stroke="#a49aa2" stroke-width="0.9"/>
<circle cx="123.60" cy="148.00" r="4.2" fill="none" stroke="#d8d0d6" stroke-width="0.7"/>
<circle cx="123.60" cy="148.00" r="2.8" fill="#bdbdbd" stroke="#4a4a4a" stroke-width="1.1"/>
<circle cx="149.80" cy="148.00" r="8.6" fill="#c4bcc2" stroke="#22d48c" stroke-width="3.0"/>
<circle cx="149.80" cy="148.00" r="5.6" fill="none" stroke="#a49aa2" stroke-width="0.9"/>
<circle cx="149.80" cy="148.00" r="4.2" fill="none" stroke="#d8d0d6" stroke-width="0.7"/>
<circle cx="149.80" cy="148.00" r="2.8" fill="#bdbdbd" stroke="#4a4a4a" stroke-width="1.1"/>
<circle cx="175.20" cy="148.00" r="8.6" fill="#c4bcc2" stroke="#22d48c" stroke-width="3.0"/>
<circle cx="175.20" cy="148.00" r="5.6" fill="none" stroke="#a49aa2" stroke-width="0.9"/>
<circle cx="175.20" cy="148.00" r="4.2" fill="none" stroke="#d8d0d6" stroke-width="0.7"/>
<circle cx="175.20" cy="148.00" r="2.8" fill="#bdbdbd" stroke="#4a4a4a" stroke-width="1.1"/>
<circle cx="200.70" cy="148.00" r="8.6" fill="#c4bcc2" stroke="#22d48c" stroke-width="3.0"/>
<circle cx="200.70" cy="148.00" r="5.6" fill="none" stroke="#a49aa2" stroke-width="0.9"/>
<circle cx="200.70" cy="148.00" r="4.2" fill="none" stroke="#d8d0d6" stroke-width="0.7"/>
<circle cx="200.70" cy="148.00" r="2.8" fill="#bdbdbd" stroke="#4a4a4a" stroke-width="1.1"/>
<circle cx="98.20" cy="171.60" r="8.6" fill="#c4bcc2" stroke="#22d48c" stroke-width="3.0"/>
<circle cx="98.20" cy="171.60" r="5.6" fill="none" stroke="#a49aa2" stroke-width="0.9"/>
<circle cx="98.20" cy="171.60" r="4.2" fill="none" stroke="#d8d0d6" stroke-width="0.7"/>
<circle cx="98.20" cy="171.60" r="2.8" fill="#bdbdbd" stroke="#4a4a4a" stroke-width="1.1"/>
<circle cx="123.60" cy="171.60" r="8.6" fill="#c4bcc2" stroke="#22d48c" stroke-width="3.0"/>
<circle cx="123.60" cy="171.60" r="5.6" fill="none" stroke="#a49aa2" stroke-width="0.9"/>
<circle cx="123.60" cy="171.60" r="4.2" fill="none" stroke="#d8d0d6" stroke-width="0.7"/>
<circle cx="123.60" cy="171.60" r="2.8" fill="#bdbdbd" stroke="#4a4a4a" stroke-width="1.1"/>
<circle cx="149.80" cy="171.60" r="8.6" fill="#c4bcc2" stroke="#22d48c" stroke-width="3.0"/>
<circle cx="149.80" cy="171.60" r="5.6" fill="none" stroke="#a49aa2" stroke-width="0.9"/>
<circle cx="149.80" cy="171.60" r="4.2" fill="none" stroke="#d8d0d6" stroke-width="0.7"/>
<circle cx="149.80" cy="171.60" r="2.8" fill="#bdbdbd" stroke="#4a4a4a" stroke-width="1.1"/>
<circle cx="175.20" cy="171.60" r="8.6" fill="#c4bcc2" stroke="#22d48c" stroke-width="3.0"/>
<circle cx="175.20" cy="171.60" r="5.6" fill="none" stroke="#a49aa2" stroke-width="0.9"/>
<circle cx="175.20" cy="171.60" r="4.2" fill="none" stroke="#d8d0d6" stroke-width="0.7"/>
<circle cx="175.20" cy="171.60" r="2.8" fill="#bdbdbd" stroke="#4a4a4a" stroke-width="1.1"/>
<circle cx="200.70" cy="171.60" r="8.6" fill="#c4bcc2" stroke="#22d48c" stroke-width="3.0"/>
<circle cx="200.70" cy="171.60" r="5.6" fill="none" stroke="#a49aa2" stroke-width="0.9"/>
<circle cx="200.70" cy="171.60" r="4.2" fill="none" stroke="#d8d0d6" stroke-width="0.7"/>
<circle cx="200.70" cy="171.60" r="2.8" fill="#bdbdbd" stroke="#4a4a4a" stroke-width="1.1"/>
<circle cx="123.60" cy="196.60" r="8.6" fill="#c4bcc2" stroke="#22d48c" stroke-width="3.0"/>
<circle cx="123.60" cy="196.60" r="5.6" fill="none" stroke="#a49aa2" stroke-width="0.9"/>
<circle cx="123.60" cy="196.60" r="4.2" fill="none" stroke="#d8d0d6" stroke-width="0.7"/>
<circle cx="123.60" cy="196.60" r="2.8" fill="#bdbdbd" stroke="#4a4a4a" stroke-width="1.1"/>
<circle cx="149.80" cy="196.60" r="8.6" fill="#c4bcc2" stroke="#22d48c" stroke-width="3.0"/>
<circle cx="149.80" cy="196.60" r="5.6" fill="none" stroke="#a49aa2" stroke-width="0.9"/>
<circle cx="149.80" cy="196.60" r="4.2" fill="none" stroke="#d8d0d6" stroke-width="0.7"/>
<circle cx="149.80" cy="196.60" r="2.8" fill="#bdbdbd" stroke="#4a4a4a" stroke-width="1.1"/>
<circle cx="175.20" cy="196.60" r="8.6" fill="#c4bcc2" stroke="#22d48c" stroke-width="3.0"/>
<circle cx="175.20" cy="196.60" r="5.6" fill="none" stroke="#a49aa2" stroke-width="0.9"/>
<circle cx="175.20" cy="196.60" r="4.2" fill="none" stroke="#d8d0d6" stroke-width="0.7"/>
<circle cx="175.20" cy="196.60" r="2.8" fill="#bdbdbd" stroke="#4a4a4a" stroke-width="1.1"/>
<circle cx="200.70" cy="196.60" r="8.6" fill="#c4bcc2" stroke="#22d48c" stroke-width="3.0"/>
<circle cx="200.70" cy="196.60" r="5.6" fill="none" stroke="#a49aa2" stroke-width="0.9"/>
<circle cx="200.70" cy="196.60" r="4.2" fill="none" stroke="#d8d0d6" stroke-width="0.7"/>
<circle cx="200.70" cy="196.60" r="2.8" fill="#bdbdbd" stroke="#4a4a4a" stroke-width="1.1"/>
<circle cx="123.60" cy="221.00" r="8.6" fill="#c4bcc2" stroke="#22d48c" stroke-width="3.0"/>
<circle cx="123.60" cy="221.00" r="5.6" fill="none" stroke="#a49aa2" stroke-width="0.9"/>
<circle cx="123.60" cy="221.00" r="4.2" fill="none" stroke="#d8d0d6" stroke-width="0.7"/>
<circle cx="123.60" cy="221.00" r="2.8" fill="#bdbdbd" stroke="#4a4a4a" stroke-width="1.1"/>
<circle cx="149.80" cy="221.00" r="8.6" fill="#c4bcc2" stroke="#22d48c" stroke-width="3.0"/>
<circle cx="149.80" cy="221.00" r="5.6" fill="none" stroke="#a49aa2" stroke-width="0.9"/>
<circle cx="149.80" cy="221.00" r="4.2" fill="none" stroke="#d8d0d6" stroke-width="0.7"/>
<circle cx="149.80" cy="221.00" r="2.8" fill="#bdbdbd" stroke="#4a4a4a" stroke-width="1.1"/>
<circle cx="175.20" cy="221.00" r="8.6" fill="#c4bcc2" stroke="#22d48c" stroke-width="3.0"/>
<circle cx="175.20" cy="221.00" r="5.6" fill="none" stroke="#a49aa2" stroke-width="0.9"/>
<circle cx="175.20" cy="221.00" r="4.2" fill="none" stroke="#d8d0d6" stroke-width="0.7"/>
<circle cx="175.20" cy="221.00" r="2.8" fill="#bdbdbd" stroke="#4a4a4a" stroke-width="1.1"/>
<circle cx="200.70" cy="221.00" r="8.6" fill="#c4bcc2" stroke="#22d48c" stroke-width="3.0"/>
<circle cx="200.70" cy="221.00" r="5.6" fill="none" stroke="#a49aa2" stroke-width="0.9"/>
<circle cx="200.70" cy="221.00" r="4.2" fill="none" stroke="#d8d0d6" stroke-width="0.7"/>
<circle cx="200.70" cy="221.00" r="2.8" fill="#bdbdbd" stroke="#4a4a4a" stroke-width="1.1"/>
<circle cx="175.20" cy="244.50" r="8.6" fill="#c4bcc2" stroke="#22d48c" stroke-width="3.0"/>
<circle cx="175.20" cy="244.50" r="5.6" fill="none" stroke="#a49aa2" stroke-width="0.9"/>
<circle cx="175.20" cy="244.50" r="4.2" fill="none" stroke="#d8d0d6" stroke-width="0.7"/>
<circle cx="175.20" cy="244.50" r="2.8" fill="#bdbdbd" stroke="#4a4a4a" stroke-width="1.1"/>
<circle cx="200.70" cy="244.50" r="8.6" fill="#c4bcc2" stroke="#22d48c" stroke-width="3.0"/>
<circle cx="200.70" cy="244.50" r="5.6" fill="none" stroke="#a49aa2" stroke-width="0.9"/>
<circle cx="200.70" cy="244.50" r="4.2" fill="none" stroke="#d8d0d6" stroke-width="0.7"/>
<circle cx="200.70" cy="244.50" r="2.8" fill="#bdbdbd" stroke="#4a4a4a" stroke-width="1.1"/>
<circle cx="149.80" cy="196.60" r="54.5" fill="#f6d47c" fill-opacity="0.6" stroke="#c8a868" stroke-width="0.4"/>
<circle cx="149.80" cy="196.60" r="48.8" fill="#f4bc58" fill-opacity="0.6" stroke="#806040" stroke-width="0.4"/>
<circle cx="149.80" cy="196.60" r="38.6" fill="#f0963a" fill-opacity="0.85" stroke="#a06030" stroke-width="0.4"/>
<g opacity="0.8"><circle cx="98.20" cy="196.60" r="10" fill="#e0641e"/>
<circle cx="98.20" cy="196.60" r="6.6" fill="none" stroke="#a84a14" stroke-width="1"/>
<circle cx="98.20" cy="196.60" r="3.3" fill="none" stroke="#a84a14" stroke-width="1"/>
<circle cx="98.20" cy="196.60" r="1.2" fill="#a84a14"/></g>
<g opacity="0.85"><circle cx="98.20" cy="221.00" r="10" fill="#e0641e"/>
<circle cx="98.20" cy="221.00" r="6.6" fill="none" stroke="#a84a14" stroke-width="1"/>
<circle cx="98.20" cy="221.00" r="3.3" fill="none" stroke="#a84a14" stroke-width="1"/>
<circle cx="98.20" cy="221.00" r="1.2" fill="#a84a14"/></g>
<g opacity="0.95"><circle cx="98.20" cy="244.50" r="10" fill="#e8b020"/>
<circle cx="98.20" cy="244.50" r="6.6" fill="none" stroke="#b08018" stroke-width="1"/>
<circle cx="98.20" cy="244.50" r="3.3" fill="none" stroke="#b08018" stroke-width="1"/>
<circle cx="98.20" cy="244.50" r="1.2" fill="#b08018"/></g>
<g opacity="0.8"><circle cx="123.60" cy="244.50" r="10" fill="#e0641e"/>
<circle cx="123.60" cy="244.50" r="6.6" fill="none" stroke="#a84a14" stroke-width="1"/>
<circle cx="123.60" cy="244.50" r="3.3" fill="none" stroke="#a84a14" stroke-width="1"/>
<circle cx="123.60" cy="244.50" r="1.2" fill="#a84a14"/></g>
<g opacity="0.75"><circle cx="149.80" cy="244.50" r="10" fill="#e8901e"/>
<circle cx="149.80" cy="244.50" r="6.6" fill="none" stroke="#b06a18" stroke-width="1"/>
<circle cx="149.80" cy="244.50" r="3.3" fill="none" stroke="#b06a18" stroke-width="1"/>
<circle cx="149.80" cy="244.50" r="1.2" fill="#b06a18"/></g>
<g opacity="0.4"><circle cx="98.20" cy="148.00" r="8.6" fill="#c4bcc2" stroke="#22d48c" stroke-width="3.0"/>
<circle cx="98.20" cy="148.00" r="5.6" fill="none" stroke="#a49aa2" stroke-width="0.9"/>
<circle cx="98.20" cy="148.00" r="4.2" fill="none" stroke="#d8d0d6" stroke-width="0.7"/>
<circle cx="98.20" cy="148.00" r="2.8" fill="#bdbdbd" stroke="#4a4a4a" stroke-width="1.1"/></g>
<g opacity="0.4"><circle cx="123.60" cy="148.00" r="8.6" fill="#c4bcc2" stroke="#22d48c" stroke-width="3.0"/>
<circle cx="123.60" cy="148.00" r="5.6" fill="none" stroke="#a49aa2" stroke-width="0.9"/>
<circle cx="123.60" cy="148.00" r="4.2" fill="none" stroke="#d8d0d6" stroke-width="0.7"/>
<circle cx="123.60" cy="148.00" r="2.8" fill="#bdbdbd" stroke="#4a4a4a" stroke-width="1.1"/></g>
<g opacity="0.4"><circle cx="149.80" cy="148.00" r="8.6" fill="#c4bcc2" stroke="#22d48c" stroke-width="3.0"/>
<circle cx="149.80" cy="148.00" r="5.6" fill="none" stroke="#a49aa2" stroke-width="0.9"/>
<circle cx="149.80" cy="148.00" r="4.2" fill="none" stroke="#d8d0d6" stroke-width="0.7"/>
<circle cx="149.80" cy="148.00" r="2.8" fill="#bdbdbd" stroke="#4a4a4a" stroke-width="1.1"/></g>
<g opacity="0.4"><circle cx="175.20" cy="148.00" r="8.6" fill="#c4bcc2" stroke="#22d48c" stroke-width="3.0"/>
<circle cx="175.20" cy="148.00" r="5.6" fill="none" stroke="#a49aa2" stroke-width="0.9"/>
<circle cx="175.20" cy="148.00" r="4.2" fill="none" stroke="#d8d0d6" stroke-width="0.7"/>
<circle cx="175.20" cy="148.00" r="2.8" fill="#bdbdbd" stroke="#4a4a4a" stroke-width="1.1"/></g>
<g opacity="0.4"><circle cx="200.70" cy="148.00" r="8.6" fill="#c4bcc2" stroke="#22d48c" stroke-width="3.0"/>
<circle cx="200.70" cy="148.00" r="5.6" fill="none" stroke="#a49aa2" stroke-width="0.9"/>
<circle cx="200.70" cy="148.00" r="4.2" fill="none" stroke="#d8d0d6" stroke-width="0.7"/>
<circle cx="200.70" cy="148.00" r="2.8" fill="#bdbdbd" stroke="#4a4a4a" stroke-width="1.1"/></g>
<g opacity="0.4"><circle cx="98.20" cy="171.60" r="8.6" fill="#c4bcc2" stroke="#22d48c" stroke-width="3.0"/>
<circle cx="98.20" cy="171.60" r="5.6" fill="none" stroke="#a49aa2" stroke-width="0.9"/>
<circle cx="98.20" cy="171.60" r="4.2" fill="none" stroke="#d8d0d6" stroke-width="0.7"/>
<circle cx="98.20" cy="171.60" r="2.8" fill="#bdbdbd" stroke="#4a4a4a" stroke-width="1.1"/></g>
<g opacity="0.4"><circle cx="200.70" cy="171.60" r="8.6" fill="#c4bcc2" stroke="#22d48c" stroke-width="3.0"/>
<circle cx="200.70" cy="171.60" r="5.6" fill="none" stroke="#a49aa2" stroke-width="0.9"/>
<circle cx="200.70" cy="171.60" r="4.2" fill="none" stroke="#d8d0d6" stroke-width="0.7"/>
<circle cx="200.70" cy="171.60" r="2.8" fill="#bdbdbd" stroke="#4a4a4a" stroke-width="1.1"/></g>
<g opacity="0.4"><circle cx="200.70" cy="196.60" r="8.6" fill="#c4bcc2" stroke="#22d48c" stroke-width="3.0"/>
<circle cx="200.70" cy="196.60" r="5.6" fill="none" stroke="#a49aa2" stroke-width="0.9"/>
<circle cx="200.70" cy="196.60" r="4.2" fill="none" stroke="#d8d0d6" stroke-width="0.7"/>
<circle cx="200.70" cy="196.60" r="2.8" fill="#bdbdbd" stroke="#4a4a4a" stroke-width="1.1"/></g>
<g opacity="0.4"><circle cx="200.70" cy="221.00" r="8.6" fill="#c4bcc2" stroke="#22d48c" stroke-width="3.0"/>
<circle cx="200.70" cy="221.00" r="5.6" fill="none" stroke="#a49aa2" stroke-width="0.9"/>
<circle cx="200.70" cy="221.00" r="4.2" fill="none" stroke="#d8d0d6" stroke-width="0.7"/>
<circle cx="200.70" cy="221.00" r="2.8" fill="#bdbdbd" stroke="#4a4a4a" stroke-width="1.1"/></g>
<g opacity="0.4"><circle cx="175.20" cy="244.50" r="8.6" fill="#c4bcc2" stroke="#22d48c" stroke-width="3.0"/>
<circle cx="175.20" cy="244.50" r="5.6" fill="none" stroke="#a49aa2" stroke-width="0.9"/>
<circle cx="175.20" cy="244.50" r="4.2" fill="none" stroke="#d8d0d6" stroke-width="0.7"/>
<circle cx="175.20" cy="244.50" r="2.8" fill="#bdbdbd" stroke="#4a4a4a" stroke-width="1.1"/></g>
<g opacity="0.4"><circle cx="200.70" cy="244.50" r="8.6" fill="#c4bcc2" stroke="#22d48c" stroke-width="3.0"/>
<circle cx="200.70" cy="244.50" r="5.6" fill="none" stroke="#a49aa2" stroke-width="0.9"/>
<circle cx="200.70" cy="244.50" r="4.2" fill="none" stroke="#d8d0d6" stroke-width="0.7"/>
<circle cx="200.70" cy="244.50" r="2.8" fill="#bdbdbd" stroke="#4a4a4a" stroke-width="1.1"/></g>
<g opacity="0.5"><circle cx="123.60" cy="171.60" r="10" fill="#e07a18"/>
<circle cx="123.60" cy="171.60" r="6.6" fill="none" stroke="#c06010" stroke-width="1"/>
<circle cx="123.60" cy="171.60" r="3.3" fill="none" stroke="#c06010" stroke-width="1"/>
<circle cx="123.60" cy="171.60" r="1.2" fill="#c06010"/></g>
<g opacity="0.5"><circle cx="175.20" cy="171.60" r="10" fill="#e07a18"/>
<circle cx="175.20" cy="171.60" r="6.6" fill="none" stroke="#c06010" stroke-width="1"/>
<circle cx="175.20" cy="171.60" r="3.3" fill="none" stroke="#c06010" stroke-width="1"/>
<circle cx="175.20" cy="171.60" r="1.2" fill="#c06010"/></g>
<g opacity="0.5"><circle cx="123.60" cy="221.00" r="10" fill="#e07a18"/>
<circle cx="123.60" cy="221.00" r="6.6" fill="none" stroke="#c06010" stroke-width="1"/>
<circle cx="123.60" cy="221.00" r="3.3" fill="none" stroke="#c06010" stroke-width="1"/>
<circle cx="123.60" cy="221.00" r="1.2" fill="#c06010"/></g>
<g opacity="0.5"><circle cx="175.20" cy="221.00" r="10" fill="#e07a18"/>
<circle cx="175.20" cy="221.00" r="6.6" fill="none" stroke="#c06010" stroke-width="1"/>
<circle cx="175.20" cy="221.00" r="3.3" fill="none" stroke="#c06010" stroke-width="1"/>
<circle cx="175.20" cy="221.00" r="1.2" fill="#c06010"/></g>
<g opacity="0.5"><circle cx="149.80" cy="171.60" r="10" fill="#e07a18"/>
<circle cx="149.80" cy="171.60" r="6.6" fill="none" stroke="#c06010" stroke-width="1"/>
<circle cx="149.80" cy="171.60" r="3.3" fill="none" stroke="#c06010" stroke-width="1"/>
<circle cx="149.80" cy="171.60" r="1.2" fill="#c06010"/></g>
<g opacity="0.5"><circle cx="123.60" cy="196.60" r="10" fill="#e07a18"/>
<circle cx="123.60" cy="196.60" r="6.6" fill="none" stroke="#c06010" stroke-width="1"/>
<circle cx="123.60" cy="196.60" r="3.3" fill="none" stroke="#c06010" stroke-width="1"/>
<circle cx="123.60" cy="196.60" r="1.2" fill="#c06010"/></g>
<g opacity="0.5"><circle cx="175.20" cy="196.60" r="10" fill="#e07a18"/>
<circle cx="175.20" cy="196.60" r="6.6" fill="none" stroke="#c06010" stroke-width="1"/>
<circle cx="175.20" cy="196.60" r="3.3" fill="none" stroke="#c06010" stroke-width="1"/>
<circle cx="175.20" cy="196.60" r="1.2" fill="#c06010"/></g>
<g opacity="0.5"><circle cx="149.80" cy="221.00" r="10" fill="#e07a18"/>
<circle cx="149.80" cy="221.00" r="6.6" fill="none" stroke="#c06010" stroke-width="1"/>
<circle cx="149.80" cy="221.00" r="3.3" fill="none" stroke="#c06010" stroke-width="1"/>
<circle cx="149.80" cy="221.00" r="1.2" fill="#c06010"/></g>
<circle cx="149.8" cy="196.6" r="25" fill="url(#rga)" filter="url(#b05)"/><circle cx="149.8" cy="196.6" r="24.5" fill="none" stroke="#b04020" stroke-width="0.35"/><circle cx="149.8" cy="171.6" r="9.5" fill="#c02010" opacity="0.18"/><circle cx="123.6" cy="196.6" r="9.5" fill="#c02010" opacity="0.18"/><circle cx="175.2" cy="196.6" r="9.5" fill="#c02010" opacity="0.18"/><circle cx="149.8" cy="221.0" r="9.5" fill="#c02010" opacity="0.18"/><circle cx="149.8" cy="196.6" r="10" fill="none" stroke="#f8a0a0" stroke-width="0.9"/><circle cx="149.8" cy="196.6" r="6.2" fill="none" stroke="#e88080" stroke-width="0.6"/><circle cx="149.8" cy="196.6" r="2.6" fill="none" stroke="#903030" stroke-width="0.9"/>
<line x1="96.5" y1="196.60" x2="149.80" y2="196.60" stroke="#111" stroke-width="0.8"/>
<circle cx="96.5" cy="196.60" r="1" fill="#111"/>
<circle cx="101.7" cy="196.60" r="1" fill="#111"/>
<circle cx="113.2" cy="196.60" r="1" fill="#111"/>
<circle cx="128.4" cy="196.60" r="1" fill="#111"/>
<text class="se" x="91.3" y="194.60" font-size="8.6" fill="#111">IV</text>
<text class="se" x="99.8" y="194.60" font-size="8.6" fill="#111">III</text>
<text class="se" x="115.3" y="194.60" font-size="8.6" fill="#111">II</text>
<text class="se" x="132.5" y="194.60" font-size="8.6" fill="#111">I</text>
<rect x="367.8" y="137.5" width="9" height="122.5" fill="url(#shR)"/>
<rect x="237.8" y="137.5" width="3" height="119.5" fill="url(#shL)"/>
<rect x="240.8" y="134.5" width="127.0" height="123.5" fill="#ededed"/>
<rect x="240.8" y="134.5" width="127.0" height="5" fill="url(#shT)"/>
<circle cx="252.70" cy="148.40" r="8.6" fill="#c4bcc2" stroke="#22d48c" stroke-width="3.0"/>
<circle cx="252.70" cy="148.40" r="5.6" fill="none" stroke="#a49aa2" stroke-width="0.9"/>
<circle cx="252.70" cy="148.40" r="4.2" fill="none" stroke="#d8d0d6" stroke-width="0.7"/>
<circle cx="252.70" cy="148.40" r="2.8" fill="#bdbdbd" stroke="#4a4a4a" stroke-width="1.1"/>
<circle cx="277.40" cy="148.40" r="8.6" fill="#c4bcc2" stroke="#22d48c" stroke-width="3.0"/>
<circle cx="277.40" cy="148.40" r="5.6" fill="none" stroke="#a49aa2" stroke-width="0.9"/>
<circle cx="277.40" cy="148.40" r="4.2" fill="none" stroke="#d8d0d6" stroke-width="0.7"/>
<circle cx="277.40" cy="148.40" r="2.8" fill="#bdbdbd" stroke="#4a4a4a" stroke-width="1.1"/>
<circle cx="302.60" cy="148.40" r="8.6" fill="#c4bcc2" stroke="#22d48c" stroke-width="3.0"/>
<circle cx="302.60" cy="148.40" r="5.6" fill="none" stroke="#a49aa2" stroke-width="0.9"/>
<circle cx="302.60" cy="148.40" r="4.2" fill="none" stroke="#d8d0d6" stroke-width="0.7"/>
<circle cx="302.60" cy="148.40" r="2.8" fill="#bdbdbd" stroke="#4a4a4a" stroke-width="1.1"/>
<circle cx="328.00" cy="148.40" r="8.6" fill="#c4bcc2" stroke="#22d48c" stroke-width="3.0"/>
<circle cx="328.00" cy="148.40" r="5.6" fill="none" stroke="#a49aa2" stroke-width="0.9"/>
<circle cx="328.00" cy="148.40" r="4.2" fill="none" stroke="#d8d0d6" stroke-width="0.7"/>
<circle cx="328.00" cy="148.40" r="2.8" fill="#bdbdbd" stroke="#4a4a4a" stroke-width="1.1"/>
<circle cx="353.30" cy="148.40" r="8.6" fill="#c4bcc2" stroke="#22d48c" stroke-width="3.0"/>
<circle cx="353.30" cy="148.40" r="5.6" fill="none" stroke="#a49aa2" stroke-width="0.9"/>
<circle cx="353.30" cy="148.40" r="4.2" fill="none" stroke="#d8d0d6" stroke-width="0.7"/>
<circle cx="353.30" cy="148.40" r="2.8" fill="#bdbdbd" stroke="#4a4a4a" stroke-width="1.1"/>
<circle cx="252.70" cy="171.60" r="8.6" fill="#c4bcc2" stroke="#22d48c" stroke-width="3.0"/>
<circle cx="252.70" cy="171.60" r="5.6" fill="none" stroke="#a49aa2" stroke-width="0.9"/>
<circle cx="252.70" cy="171.60" r="4.2" fill="none" stroke="#d8d0d6" stroke-width="0.7"/>
<circle cx="252.70" cy="171.60" r="2.8" fill="#bdbdbd" stroke="#4a4a4a" stroke-width="1.1"/>
<circle cx="277.40" cy="171.60" r="8.6" fill="#c4bcc2" stroke="#22d48c" stroke-width="3.0"/>
<circle cx="277.40" cy="171.60" r="5.6" fill="none" stroke="#a49aa2" stroke-width="0.9"/>
<circle cx="277.40" cy="171.60" r="4.2" fill="none" stroke="#d8d0d6" stroke-width="0.7"/>
<circle cx="277.40" cy="171.60" r="2.8" fill="#bdbdbd" stroke="#4a4a4a" stroke-width="1.1"/>
<circle cx="302.60" cy="171.60" r="8.6" fill="#c4bcc2" stroke="#22d48c" stroke-width="3.0"/>
<circle cx="302.60" cy="171.60" r="5.6" fill="none" stroke="#a49aa2" stroke-width="0.9"/>
<circle cx="302.60" cy="171.60" r="4.2" fill="none" stroke="#d8d0d6" stroke-width="0.7"/>
<circle cx="302.60" cy="171.60" r="2.8" fill="#bdbdbd" stroke="#4a4a4a" stroke-width="1.1"/>
<circle cx="328.00" cy="171.60" r="8.6" fill="#c4bcc2" stroke="#22d48c" stroke-width="3.0"/>
<circle cx="328.00" cy="171.60" r="5.6" fill="none" stroke="#a49aa2" stroke-width="0.9"/>
<circle cx="328.00" cy="171.60" r="4.2" fill="none" stroke="#d8d0d6" stroke-width="0.7"/>
<circle cx="328.00" cy="171.60" r="2.8" fill="#bdbdbd" stroke="#4a4a4a" stroke-width="1.1"/>
<circle cx="353.30" cy="171.60" r="8.6" fill="#c4bcc2" stroke="#22d48c" stroke-width="3.0"/>
<circle cx="353.30" cy="171.60" r="5.6" fill="none" stroke="#a49aa2" stroke-width="0.9"/>
<circle cx="353.30" cy="171.60" r="4.2" fill="none" stroke="#d8d0d6" stroke-width="0.7"/>
<circle cx="353.30" cy="171.60" r="2.8" fill="#bdbdbd" stroke="#4a4a4a" stroke-width="1.1"/>
<circle cx="252.70" cy="196.90" r="8.6" fill="#c4bcc2" stroke="#22d48c" stroke-width="3.0"/>
<circle cx="252.70" cy="196.90" r="5.6" fill="none" stroke="#a49aa2" stroke-width="0.9"/>
<circle cx="252.70" cy="196.90" r="4.2" fill="none" stroke="#d8d0d6" stroke-width="0.7"/>
<circle cx="252.70" cy="196.90" r="2.8" fill="#bdbdbd" stroke="#4a4a4a" stroke-width="1.1"/>
<circle cx="277.40" cy="196.90" r="8.6" fill="#c4bcc2" stroke="#22d48c" stroke-width="3.0"/>
<circle cx="277.40" cy="196.90" r="5.6" fill="none" stroke="#a49aa2" stroke-width="0.9"/>
<circle cx="277.40" cy="196.90" r="4.2" fill="none" stroke="#d8d0d6" stroke-width="0.7"/>
<circle cx="277.40" cy="196.90" r="2.8" fill="#bdbdbd" stroke="#4a4a4a" stroke-width="1.1"/>
<circle cx="302.60" cy="196.90" r="8.6" fill="#c4bcc2" stroke="#22d48c" stroke-width="3.0"/>
<circle cx="302.60" cy="196.90" r="5.6" fill="none" stroke="#a49aa2" stroke-width="0.9"/>
<circle cx="302.60" cy="196.90" r="4.2" fill="none" stroke="#d8d0d6" stroke-width="0.7"/>
<circle cx="302.60" cy="196.90" r="2.8" fill="#bdbdbd" stroke="#4a4a4a" stroke-width="1.1"/>
<circle cx="328.00" cy="196.90" r="8.6" fill="#c4bcc2" stroke="#22d48c" stroke-width="3.0"/>
<circle cx="328.00" cy="196.90" r="5.6" fill="none" stroke="#a49aa2" stroke-width="0.9"/>
<circle cx="328.00" cy="196.90" r="4.2" fill="none" stroke="#d8d0d6" stroke-width="0.7"/>
<circle cx="328.00" cy="196.90" r="2.8" fill="#bdbdbd" stroke="#4a4a4a" stroke-width="1.1"/>
<circle cx="353.30" cy="196.90" r="8.6" fill="#c4bcc2" stroke="#22d48c" stroke-width="3.0"/>
<circle cx="353.30" cy="196.90" r="5.6" fill="none" stroke="#a49aa2" stroke-width="0.9"/>
<circle cx="353.30" cy="196.90" r="4.2" fill="none" stroke="#d8d0d6" stroke-width="0.7"/>
<circle cx="353.30" cy="196.90" r="2.8" fill="#bdbdbd" stroke="#4a4a4a" stroke-width="1.1"/>
<circle cx="252.70" cy="219.80" r="8.6" fill="#c4bcc2" stroke="#22d48c" stroke-width="3.0"/>
<circle cx="252.70" cy="219.80" r="5.6" fill="none" stroke="#a49aa2" stroke-width="0.9"/>
<circle cx="252.70" cy="219.80" r="4.2" fill="none" stroke="#d8d0d6" stroke-width="0.7"/>
<circle cx="252.70" cy="219.80" r="2.8" fill="#bdbdbd" stroke="#4a4a4a" stroke-width="1.1"/>
<circle cx="277.40" cy="219.80" r="8.6" fill="#c4bcc2" stroke="#22d48c" stroke-width="3.0"/>
<circle cx="277.40" cy="219.80" r="5.6" fill="none" stroke="#a49aa2" stroke-width="0.9"/>
<circle cx="277.40" cy="219.80" r="4.2" fill="none" stroke="#d8d0d6" stroke-width="0.7"/>
<circle cx="277.40" cy="219.80" r="2.8" fill="#bdbdbd" stroke="#4a4a4a" stroke-width="1.1"/>
<circle cx="302.60" cy="219.80" r="8.6" fill="#c4bcc2" stroke="#22d48c" stroke-width="3.0"/>
<circle cx="302.60" cy="219.80" r="5.6" fill="none" stroke="#a49aa2" stroke-width="0.9"/>
<circle cx="302.60" cy="219.80" r="4.2" fill="none" stroke="#d8d0d6" stroke-width="0.7"/>
<circle cx="302.60" cy="219.80" r="2.8" fill="#bdbdbd" stroke="#4a4a4a" stroke-width="1.1"/>
<circle cx="328.00" cy="219.80" r="8.6" fill="#c4bcc2" stroke="#22d48c" stroke-width="3.0"/>
<circle cx="328.00" cy="219.80" r="5.6" fill="none" stroke="#a49aa2" stroke-width="0.9"/>
<circle cx="328.00" cy="219.80" r="4.2" fill="none" stroke="#d8d0d6" stroke-width="0.7"/>
<circle cx="328.00" cy="219.80" r="2.8" fill="#bdbdbd" stroke="#4a4a4a" stroke-width="1.1"/>
<circle cx="353.30" cy="219.80" r="8.6" fill="#c4bcc2" stroke="#22d48c" stroke-width="3.0"/>
<circle cx="353.30" cy="219.80" r="5.6" fill="none" stroke="#a49aa2" stroke-width="0.9"/>
<circle cx="353.30" cy="219.80" r="4.2" fill="none" stroke="#d8d0d6" stroke-width="0.7"/>
<circle cx="353.30" cy="219.80" r="2.8" fill="#bdbdbd" stroke="#4a4a4a" stroke-width="1.1"/>
<circle cx="252.70" cy="243.00" r="8.6" fill="#c4bcc2" stroke="#22d48c" stroke-width="3.0"/>
<circle cx="252.70" cy="243.00" r="5.6" fill="none" stroke="#a49aa2" stroke-width="0.9"/>
<circle cx="252.70" cy="243.00" r="4.2" fill="none" stroke="#d8d0d6" stroke-width="0.7"/>
<circle cx="252.70" cy="243.00" r="2.8" fill="#bdbdbd" stroke="#4a4a4a" stroke-width="1.1"/>
<circle cx="277.40" cy="243.00" r="8.6" fill="#c4bcc2" stroke="#22d48c" stroke-width="3.0"/>
<circle cx="277.40" cy="243.00" r="5.6" fill="none" stroke="#a49aa2" stroke-width="0.9"/>
<circle cx="277.40" cy="243.00" r="4.2" fill="none" stroke="#d8d0d6" stroke-width="0.7"/>
<circle cx="277.40" cy="243.00" r="2.8" fill="#bdbdbd" stroke="#4a4a4a" stroke-width="1.1"/>
<circle cx="302.60" cy="243.00" r="8.6" fill="#c4bcc2" stroke="#22d48c" stroke-width="3.0"/>
<circle cx="302.60" cy="243.00" r="5.6" fill="none" stroke="#a49aa2" stroke-width="0.9"/>
<circle cx="302.60" cy="243.00" r="4.2" fill="none" stroke="#d8d0d6" stroke-width="0.7"/>
<circle cx="302.60" cy="243.00" r="2.8" fill="#bdbdbd" stroke="#4a4a4a" stroke-width="1.1"/>
<circle cx="328.00" cy="243.00" r="8.6" fill="#c4bcc2" stroke="#22d48c" stroke-width="3.0"/>
<circle cx="328.00" cy="243.00" r="5.6" fill="none" stroke="#a49aa2" stroke-width="0.9"/>
<circle cx="328.00" cy="243.00" r="4.2" fill="none" stroke="#d8d0d6" stroke-width="0.7"/>
<circle cx="328.00" cy="243.00" r="2.8" fill="#bdbdbd" stroke="#4a4a4a" stroke-width="1.1"/>
<circle cx="353.30" cy="243.00" r="8.6" fill="#c4bcc2" stroke="#22d48c" stroke-width="3.0"/>
<circle cx="353.30" cy="243.00" r="5.6" fill="none" stroke="#a49aa2" stroke-width="0.9"/>
<circle cx="353.30" cy="243.00" r="4.2" fill="none" stroke="#d8d0d6" stroke-width="0.7"/>
<circle cx="353.30" cy="243.00" r="2.8" fill="#bdbdbd" stroke="#4a4a4a" stroke-width="1.1"/>
<circle cx="302.60" cy="196.90" r="52" fill="#fbe4a4" fill-opacity="0.75" stroke="#e0c890" stroke-width="0.4"/>
<circle cx="302.60" cy="196.90" r="47" fill="#f8d890" fill-opacity="0.3" stroke="#6a6a6a" stroke-width="0.45"/>
<circle cx="302.60" cy="196.90" r="36.2" fill="#f6c878" fill-opacity="0.45" stroke="#6a6a6a" stroke-width="0.45"/>
<g opacity="0.72"><circle cx="277.40" cy="171.60" r="10" fill="#e88a22"/>
<circle cx="277.40" cy="171.60" r="6.6" fill="none" stroke="#c86a14" stroke-width="1"/>
<circle cx="277.40" cy="171.60" r="3.3" fill="none" stroke="#c86a14" stroke-width="1"/>
<circle cx="277.40" cy="171.60" r="1.2" fill="#c86a14"/></g>
<g opacity="0.72"><circle cx="302.60" cy="171.60" r="10" fill="#e88a22"/>
<circle cx="302.60" cy="171.60" r="6.6" fill="none" stroke="#c86a14" stroke-width="1"/>
<circle cx="302.60" cy="171.60" r="3.3" fill="none" stroke="#c86a14" stroke-width="1"/>
<circle cx="302.60" cy="171.60" r="1.2" fill="#c86a14"/></g>
<g opacity="0.72"><circle cx="328.00" cy="171.60" r="10" fill="#e88a22"/>
<circle cx="328.00" cy="171.60" r="6.6" fill="none" stroke="#c86a14" stroke-width="1"/>
<circle cx="328.00" cy="171.60" r="3.3" fill="none" stroke="#c86a14" stroke-width="1"/>
<circle cx="328.00" cy="171.60" r="1.2" fill="#c86a14"/></g>
<g opacity="0.72"><circle cx="277.40" cy="196.90" r="10" fill="#e88a22"/>
<circle cx="277.40" cy="196.90" r="6.6" fill="none" stroke="#c86a14" stroke-width="1"/>
<circle cx="277.40" cy="196.90" r="3.3" fill="none" stroke="#c86a14" stroke-width="1"/>
<circle cx="277.40" cy="196.90" r="1.2" fill="#c86a14"/></g>
<g opacity="0.72"><circle cx="328.00" cy="196.90" r="10" fill="#e88a22"/>
<circle cx="328.00" cy="196.90" r="6.6" fill="none" stroke="#c86a14" stroke-width="1"/>
<circle cx="328.00" cy="196.90" r="3.3" fill="none" stroke="#c86a14" stroke-width="1"/>
<circle cx="328.00" cy="196.90" r="1.2" fill="#c86a14"/></g>
<g opacity="0.72"><circle cx="277.40" cy="219.80" r="10" fill="#e88a22"/>
<circle cx="277.40" cy="219.80" r="6.6" fill="none" stroke="#c86a14" stroke-width="1"/>
<circle cx="277.40" cy="219.80" r="3.3" fill="none" stroke="#c86a14" stroke-width="1"/>
<circle cx="277.40" cy="219.80" r="1.2" fill="#c86a14"/></g>
<g opacity="0.72"><circle cx="302.60" cy="219.80" r="10" fill="#e88a22"/>
<circle cx="302.60" cy="219.80" r="6.6" fill="none" stroke="#c86a14" stroke-width="1"/>
<circle cx="302.60" cy="219.80" r="3.3" fill="none" stroke="#c86a14" stroke-width="1"/>
<circle cx="302.60" cy="219.80" r="1.2" fill="#c86a14"/></g>
<g opacity="0.72"><circle cx="328.00" cy="219.80" r="10" fill="#e88a22"/>
<circle cx="328.00" cy="219.80" r="6.6" fill="none" stroke="#c86a14" stroke-width="1"/>
<circle cx="328.00" cy="219.80" r="3.3" fill="none" stroke="#c86a14" stroke-width="1"/>
<circle cx="328.00" cy="219.80" r="1.2" fill="#c86a14"/></g>
<g opacity="0.45"><circle cx="302.60" cy="148.40" r="10" fill="#c0dc98"/>
<circle cx="302.60" cy="148.40" r="6.6" fill="none" stroke="#e0d098" stroke-width="1"/>
<circle cx="302.60" cy="148.40" r="3.3" fill="none" stroke="#e0d098" stroke-width="1"/>
<circle cx="302.60" cy="148.40" r="1.2" fill="#e0d098"/></g>
<g opacity="0.45"><circle cx="252.70" cy="196.90" r="10" fill="#c0dc98"/>
<circle cx="252.70" cy="196.90" r="6.6" fill="none" stroke="#e0d098" stroke-width="1"/>
<circle cx="252.70" cy="196.90" r="3.3" fill="none" stroke="#e0d098" stroke-width="1"/>
<circle cx="252.70" cy="196.90" r="1.2" fill="#e0d098"/></g>
<g opacity="0.45"><circle cx="353.30" cy="196.90" r="10" fill="#c0dc98"/>
<circle cx="353.30" cy="196.90" r="6.6" fill="none" stroke="#e0d098" stroke-width="1"/>
<circle cx="353.30" cy="196.90" r="3.3" fill="none" stroke="#e0d098" stroke-width="1"/>
<circle cx="353.30" cy="196.90" r="1.2" fill="#e0d098"/></g>
<g opacity="0.45"><circle cx="302.60" cy="243.00" r="10" fill="#c0dc98"/>
<circle cx="302.60" cy="243.00" r="6.6" fill="none" stroke="#e0d098" stroke-width="1"/>
<circle cx="302.60" cy="243.00" r="3.3" fill="none" stroke="#e0d098" stroke-width="1"/>
<circle cx="302.60" cy="243.00" r="1.2" fill="#e0d098"/></g>
<circle cx="302.6" cy="196.9" r="24" fill="url(#rgb)" filter="url(#b1)"/><circle cx="302.6" cy="171.6" r="9.6" fill="#e07020" opacity="0.35"/><circle cx="277.4" cy="196.9" r="9.6" fill="#e07020" opacity="0.35"/><circle cx="328.0" cy="196.9" r="9.6" fill="#e07020" opacity="0.35"/><circle cx="302.6" cy="219.8" r="9.6" fill="#e07020" opacity="0.35"/><circle cx="302.6" cy="196.9" r="22.4" fill="none" stroke="#a05030" stroke-width="0.35"/><circle cx="302.6" cy="196.9" r="5" fill="none" stroke="#c02030" stroke-width="1.1"/><circle cx="302.6" cy="196.9" r="2.4" fill="none" stroke="#902030" stroke-width="0.7"/>
<line x1="256.8" y1="196.90" x2="302.60" y2="196.90" stroke="#111" stroke-width="0.8"/>
<circle cx="256.8" cy="196.90" r="1" fill="#111"/>
<circle cx="267.4" cy="196.90" r="1" fill="#111"/>
<circle cx="282.4" cy="196.90" r="1" fill="#111"/>
<text class="se" x="256.0" y="194.90" font-size="8.6" fill="#111">III</text>
<text class="se" x="271.0" y="194.90" font-size="8.6" fill="#111">II</text>
<text class="se" x="287.3" y="194.90" font-size="8.6" fill="#111">I</text>
<rect x="522.5" y="137.5" width="9" height="122.0" fill="url(#shR)"/>
<rect x="390.3" y="137.5" width="3" height="119.0" fill="url(#shL)"/>
<rect x="393.3" y="134.5" width="129.2" height="123.0" fill="#ededed"/>
<rect x="393.3" y="134.5" width="129.2" height="5" fill="url(#shT)"/>
<circle cx="406.30" cy="147.80" r="8.6" fill="#c4bcc2" stroke="#22d48c" stroke-width="3.0"/>
<circle cx="406.30" cy="147.80" r="5.6" fill="none" stroke="#a49aa2" stroke-width="0.9"/>
<circle cx="406.30" cy="147.80" r="4.2" fill="none" stroke="#d8d0d6" stroke-width="0.7"/>
<circle cx="406.30" cy="147.80" r="2.8" fill="#bdbdbd" stroke="#4a4a4a" stroke-width="1.1"/>
<circle cx="431.50" cy="147.80" r="8.6" fill="#c4bcc2" stroke="#22d48c" stroke-width="3.0"/>
<circle cx="431.50" cy="147.80" r="5.6" fill="none" stroke="#a49aa2" stroke-width="0.9"/>
<circle cx="431.50" cy="147.80" r="4.2" fill="none" stroke="#d8d0d6" stroke-width="0.7"/>
<circle cx="431.50" cy="147.80" r="2.8" fill="#bdbdbd" stroke="#4a4a4a" stroke-width="1.1"/>
<circle cx="457.10" cy="147.80" r="8.6" fill="#c4bcc2" stroke="#22d48c" stroke-width="3.0"/>
<circle cx="457.10" cy="147.80" r="5.6" fill="none" stroke="#a49aa2" stroke-width="0.9"/>
<circle cx="457.10" cy="147.80" r="4.2" fill="none" stroke="#d8d0d6" stroke-width="0.7"/>
<circle cx="457.10" cy="147.80" r="2.8" fill="#bdbdbd" stroke="#4a4a4a" stroke-width="1.1"/>
<circle cx="482.00" cy="147.80" r="8.6" fill="#c4bcc2" stroke="#22d48c" stroke-width="3.0"/>
<circle cx="482.00" cy="147.80" r="5.6" fill="none" stroke="#a49aa2" stroke-width="0.9"/>
<circle cx="482.00" cy="147.80" r="4.2" fill="none" stroke="#d8d0d6" stroke-width="0.7"/>
<circle cx="482.00" cy="147.80" r="2.8" fill="#bdbdbd" stroke="#4a4a4a" stroke-width="1.1"/>
<circle cx="507.40" cy="147.80" r="8.6" fill="#c4bcc2" stroke="#22d48c" stroke-width="3.0"/>
<circle cx="507.40" cy="147.80" r="5.6" fill="none" stroke="#a49aa2" stroke-width="0.9"/>
<circle cx="507.40" cy="147.80" r="4.2" fill="none" stroke="#d8d0d6" stroke-width="0.7"/>
<circle cx="507.40" cy="147.80" r="2.8" fill="#bdbdbd" stroke="#4a4a4a" stroke-width="1.1"/>
<circle cx="406.30" cy="170.50" r="8.6" fill="#c4bcc2" stroke="#22d48c" stroke-width="3.0"/>
<circle cx="406.30" cy="170.50" r="5.6" fill="none" stroke="#a49aa2" stroke-width="0.9"/>
<circle cx="406.30" cy="170.50" r="4.2" fill="none" stroke="#d8d0d6" stroke-width="0.7"/>
<circle cx="406.30" cy="170.50" r="2.8" fill="#bdbdbd" stroke="#4a4a4a" stroke-width="1.1"/>
<circle cx="431.50" cy="170.50" r="8.6" fill="#c4bcc2" stroke="#22d48c" stroke-width="3.0"/>
<circle cx="431.50" cy="170.50" r="5.6" fill="none" stroke="#a49aa2" stroke-width="0.9"/>
<circle cx="431.50" cy="170.50" r="4.2" fill="none" stroke="#d8d0d6" stroke-width="0.7"/>
<circle cx="431.50" cy="170.50" r="2.8" fill="#bdbdbd" stroke="#4a4a4a" stroke-width="1.1"/>
<circle cx="457.10" cy="170.50" r="8.6" fill="#c4bcc2" stroke="#22d48c" stroke-width="3.0"/>
<circle cx="457.10" cy="170.50" r="5.6" fill="none" stroke="#a49aa2" stroke-width="0.9"/>
<circle cx="457.10" cy="170.50" r="4.2" fill="none" stroke="#d8d0d6" stroke-width="0.7"/>
<circle cx="457.10" cy="170.50" r="2.8" fill="#bdbdbd" stroke="#4a4a4a" stroke-width="1.1"/>
<circle cx="482.00" cy="170.50" r="8.6" fill="#c4bcc2" stroke="#22d48c" stroke-width="3.0"/>
<circle cx="482.00" cy="170.50" r="5.6" fill="none" stroke="#a49aa2" stroke-width="0.9"/>
<circle cx="482.00" cy="170.50" r="4.2" fill="none" stroke="#d8d0d6" stroke-width="0.7"/>
<circle cx="482.00" cy="170.50" r="2.8" fill="#bdbdbd" stroke="#4a4a4a" stroke-width="1.1"/>
<circle cx="507.40" cy="170.50" r="8.6" fill="#c4bcc2" stroke="#22d48c" stroke-width="3.0"/>
<circle cx="507.40" cy="170.50" r="5.6" fill="none" stroke="#a49aa2" stroke-width="0.9"/>
<circle cx="507.40" cy="170.50" r="4.2" fill="none" stroke="#d8d0d6" stroke-width="0.7"/>
<circle cx="507.40" cy="170.50" r="2.8" fill="#bdbdbd" stroke="#4a4a4a" stroke-width="1.1"/>
<circle cx="406.30" cy="196.00" r="8.6" fill="#c4bcc2" stroke="#22d48c" stroke-width="3.0"/>
<circle cx="406.30" cy="196.00" r="5.6" fill="none" stroke="#a49aa2" stroke-width="0.9"/>
<circle cx="406.30" cy="196.00" r="4.2" fill="none" stroke="#d8d0d6" stroke-width="0.7"/>
<circle cx="406.30" cy="196.00" r="2.8" fill="#bdbdbd" stroke="#4a4a4a" stroke-width="1.1"/>
<circle cx="431.50" cy="196.00" r="8.6" fill="#c4bcc2" stroke="#22d48c" stroke-width="3.0"/>
<circle cx="431.50" cy="196.00" r="5.6" fill="none" stroke="#a49aa2" stroke-width="0.9"/>
<circle cx="431.50" cy="196.00" r="4.2" fill="none" stroke="#d8d0d6" stroke-width="0.7"/>
<circle cx="431.50" cy="196.00" r="2.8" fill="#bdbdbd" stroke="#4a4a4a" stroke-width="1.1"/>
<circle cx="457.10" cy="196.00" r="8.6" fill="#c4bcc2" stroke="#22d48c" stroke-width="3.0"/>
<circle cx="457.10" cy="196.00" r="5.6" fill="none" stroke="#a49aa2" stroke-width="0.9"/>
<circle cx="457.10" cy="196.00" r="4.2" fill="none" stroke="#d8d0d6" stroke-width="0.7"/>
<circle cx="457.10" cy="196.00" r="2.8" fill="#bdbdbd" stroke="#4a4a4a" stroke-width="1.1"/>
<circle cx="482.00" cy="196.00" r="8.6" fill="#c4bcc2" stroke="#22d48c" stroke-width="3.0"/>
<circle cx="482.00" cy="196.00" r="5.6" fill="none" stroke="#a49aa2" stroke-width="0.9"/>
<circle cx="482.00" cy="196.00" r="4.2" fill="none" stroke="#d8d0d6" stroke-width="0.7"/>
<circle cx="482.00" cy="196.00" r="2.8" fill="#bdbdbd" stroke="#4a4a4a" stroke-width="1.1"/>
<circle cx="507.40" cy="196.00" r="8.6" fill="#c4bcc2" stroke="#22d48c" stroke-width="3.0"/>
<circle cx="507.40" cy="196.00" r="5.6" fill="none" stroke="#a49aa2" stroke-width="0.9"/>
<circle cx="507.40" cy="196.00" r="4.2" fill="none" stroke="#d8d0d6" stroke-width="0.7"/>
<circle cx="507.40" cy="196.00" r="2.8" fill="#bdbdbd" stroke="#4a4a4a" stroke-width="1.1"/>
<circle cx="406.30" cy="219.20" r="8.6" fill="#c4bcc2" stroke="#22d48c" stroke-width="3.0"/>
<circle cx="406.30" cy="219.20" r="5.6" fill="none" stroke="#a49aa2" stroke-width="0.9"/>
<circle cx="406.30" cy="219.20" r="4.2" fill="none" stroke="#d8d0d6" stroke-width="0.7"/>
<circle cx="406.30" cy="219.20" r="2.8" fill="#bdbdbd" stroke="#4a4a4a" stroke-width="1.1"/>
<circle cx="431.50" cy="219.20" r="8.6" fill="#c4bcc2" stroke="#22d48c" stroke-width="3.0"/>
<circle cx="431.50" cy="219.20" r="5.6" fill="none" stroke="#a49aa2" stroke-width="0.9"/>
<circle cx="431.50" cy="219.20" r="4.2" fill="none" stroke="#d8d0d6" stroke-width="0.7"/>
<circle cx="431.50" cy="219.20" r="2.8" fill="#bdbdbd" stroke="#4a4a4a" stroke-width="1.1"/>
<circle cx="457.10" cy="219.20" r="8.6" fill="#c4bcc2" stroke="#22d48c" stroke-width="3.0"/>
<circle cx="457.10" cy="219.20" r="5.6" fill="none" stroke="#a49aa2" stroke-width="0.9"/>
<circle cx="457.10" cy="219.20" r="4.2" fill="none" stroke="#d8d0d6" stroke-width="0.7"/>
<circle cx="457.10" cy="219.20" r="2.8" fill="#bdbdbd" stroke="#4a4a4a" stroke-width="1.1"/>
<circle cx="482.00" cy="219.20" r="8.6" fill="#c4bcc2" stroke="#22d48c" stroke-width="3.0"/>
<circle cx="482.00" cy="219.20" r="5.6" fill="none" stroke="#a49aa2" stroke-width="0.9"/>
<circle cx="482.00" cy="219.20" r="4.2" fill="none" stroke="#d8d0d6" stroke-width="0.7"/>
<circle cx="482.00" cy="219.20" r="2.8" fill="#bdbdbd" stroke="#4a4a4a" stroke-width="1.1"/>
<circle cx="507.40" cy="219.20" r="8.6" fill="#c4bcc2" stroke="#22d48c" stroke-width="3.0"/>
<circle cx="507.40" cy="219.20" r="5.6" fill="none" stroke="#a49aa2" stroke-width="0.9"/>
<circle cx="507.40" cy="219.20" r="4.2" fill="none" stroke="#d8d0d6" stroke-width="0.7"/>
<circle cx="507.40" cy="219.20" r="2.8" fill="#bdbdbd" stroke="#4a4a4a" stroke-width="1.1"/>
<circle cx="406.30" cy="243.00" r="8.6" fill="#c4bcc2" stroke="#22d48c" stroke-width="3.0"/>
<circle cx="406.30" cy="243.00" r="5.6" fill="none" stroke="#a49aa2" stroke-width="0.9"/>
<circle cx="406.30" cy="243.00" r="4.2" fill="none" stroke="#d8d0d6" stroke-width="0.7"/>
<circle cx="406.30" cy="243.00" r="2.8" fill="#bdbdbd" stroke="#4a4a4a" stroke-width="1.1"/>
<circle cx="431.50" cy="243.00" r="8.6" fill="#c4bcc2" stroke="#22d48c" stroke-width="3.0"/>
<circle cx="431.50" cy="243.00" r="5.6" fill="none" stroke="#a49aa2" stroke-width="0.9"/>
<circle cx="431.50" cy="243.00" r="4.2" fill="none" stroke="#d8d0d6" stroke-width="0.7"/>
<circle cx="431.50" cy="243.00" r="2.8" fill="#bdbdbd" stroke="#4a4a4a" stroke-width="1.1"/>
<circle cx="457.10" cy="243.00" r="8.6" fill="#c4bcc2" stroke="#22d48c" stroke-width="3.0"/>
<circle cx="457.10" cy="243.00" r="5.6" fill="none" stroke="#a49aa2" stroke-width="0.9"/>
<circle cx="457.10" cy="243.00" r="4.2" fill="none" stroke="#d8d0d6" stroke-width="0.7"/>
<circle cx="457.10" cy="243.00" r="2.8" fill="#bdbdbd" stroke="#4a4a4a" stroke-width="1.1"/>
<circle cx="482.00" cy="243.00" r="8.6" fill="#c4bcc2" stroke="#22d48c" stroke-width="3.0"/>
<circle cx="482.00" cy="243.00" r="5.6" fill="none" stroke="#a49aa2" stroke-width="0.9"/>
<circle cx="482.00" cy="243.00" r="4.2" fill="none" stroke="#d8d0d6" stroke-width="0.7"/>
<circle cx="482.00" cy="243.00" r="2.8" fill="#bdbdbd" stroke="#4a4a4a" stroke-width="1.1"/>
<circle cx="507.40" cy="243.00" r="8.6" fill="#c4bcc2" stroke="#22d48c" stroke-width="3.0"/>
<circle cx="507.40" cy="243.00" r="5.6" fill="none" stroke="#a49aa2" stroke-width="0.9"/>
<circle cx="507.40" cy="243.00" r="4.2" fill="none" stroke="#d8d0d6" stroke-width="0.7"/>
<circle cx="507.40" cy="243.00" r="2.8" fill="#bdbdbd" stroke="#4a4a4a" stroke-width="1.1"/>
<circle cx="457.10" cy="196.00" r="55" fill="#fdf6e4" fill-opacity="0.93" stroke="#e8dcc0" stroke-width="0.5"/>
<circle cx="457.10" cy="196.00" r="49.8" fill="#f9e4b0" fill-opacity="0.5" stroke="#6a6a6a" stroke-width="0.45"/>
<circle cx="457.10" cy="196.00" r="38" fill="#f7d898" fill-opacity="0.45" stroke="#6a6a6a" stroke-width="0.45"/>
<g opacity="0.75"><circle cx="457.10" cy="170.50" r="10" fill="#ee9424"/>
<circle cx="457.10" cy="170.50" r="6.6" fill="none" stroke="#c87018" stroke-width="1"/>
<circle cx="457.10" cy="170.50" r="3.3" fill="none" stroke="#c87018" stroke-width="1"/>
<circle cx="457.10" cy="170.50" r="1.2" fill="#c87018"/></g>
<g opacity="0.75"><circle cx="431.50" cy="196.00" r="10" fill="#ee9424"/>
<circle cx="431.50" cy="196.00" r="6.6" fill="none" stroke="#c87018" stroke-width="1"/>
<circle cx="431.50" cy="196.00" r="3.3" fill="none" stroke="#c87018" stroke-width="1"/>
<circle cx="431.50" cy="196.00" r="1.2" fill="#c87018"/></g>
<g opacity="0.75"><circle cx="482.00" cy="196.00" r="10" fill="#ee9424"/>
<circle cx="482.00" cy="196.00" r="6.6" fill="none" stroke="#c87018" stroke-width="1"/>
<circle cx="482.00" cy="196.00" r="3.3" fill="none" stroke="#c87018" stroke-width="1"/>
<circle cx="482.00" cy="196.00" r="1.2" fill="#c87018"/></g>
<g opacity="0.75"><circle cx="457.10" cy="219.20" r="10" fill="#ee9424"/>
<circle cx="457.10" cy="219.20" r="6.6" fill="none" stroke="#c87018" stroke-width="1"/>
<circle cx="457.10" cy="219.20" r="3.3" fill="none" stroke="#c87018" stroke-width="1"/>
<circle cx="457.10" cy="219.20" r="1.2" fill="#c87018"/></g>
<g opacity="0.72"><circle cx="431.50" cy="170.50" r="10" fill="#f0c030"/>
<circle cx="431.50" cy="170.50" r="6.6" fill="none" stroke="#d8a020" stroke-width="1"/>
<circle cx="431.50" cy="170.50" r="3.3" fill="none" stroke="#d8a020" stroke-width="1"/>
<circle cx="431.50" cy="170.50" r="1.2" fill="#d8a020"/></g>
<g opacity="0.72"><circle cx="482.00" cy="170.50" r="10" fill="#f0c030"/>
<circle cx="482.00" cy="170.50" r="6.6" fill="none" stroke="#d8a020" stroke-width="1"/>
<circle cx="482.00" cy="170.50" r="3.3" fill="none" stroke="#d8a020" stroke-width="1"/>
<circle cx="482.00" cy="170.50" r="1.2" fill="#d8a020"/></g>
<g opacity="0.72"><circle cx="431.50" cy="219.20" r="10" fill="#f0c030"/>
<circle cx="431.50" cy="219.20" r="6.6" fill="none" stroke="#d8a020" stroke-width="1"/>
<circle cx="431.50" cy="219.20" r="3.3" fill="none" stroke="#d8a020" stroke-width="1"/>
<circle cx="431.50" cy="219.20" r="1.2" fill="#d8a020"/></g>
<g opacity="0.72"><circle cx="482.00" cy="219.20" r="10" fill="#f0c030"/>
<circle cx="482.00" cy="219.20" r="6.6" fill="none" stroke="#d8a020" stroke-width="1"/>
<circle cx="482.00" cy="219.20" r="3.3" fill="none" stroke="#d8a020" stroke-width="1"/>
<circle cx="482.00" cy="219.20" r="1.2" fill="#d8a020"/></g>
<g opacity="0.28"><circle cx="457.10" cy="147.80" r="10" fill="#d0e4b0"/>
<circle cx="457.10" cy="147.80" r="6.6" fill="none" stroke="#e8e0c0" stroke-width="1"/>
<circle cx="457.10" cy="147.80" r="3.3" fill="none" stroke="#e8e0c0" stroke-width="1"/>
<circle cx="457.10" cy="147.80" r="1.2" fill="#e8e0c0"/></g>
<g opacity="0.28"><circle cx="406.30" cy="196.00" r="10" fill="#d0e4b0"/>
<circle cx="406.30" cy="196.00" r="6.6" fill="none" stroke="#e8e0c0" stroke-width="1"/>
<circle cx="406.30" cy="196.00" r="3.3" fill="none" stroke="#e8e0c0" stroke-width="1"/>
<circle cx="406.30" cy="196.00" r="1.2" fill="#e8e0c0"/></g>
<g opacity="0.28"><circle cx="507.40" cy="196.00" r="10" fill="#d0e4b0"/>
<circle cx="507.40" cy="196.00" r="6.6" fill="none" stroke="#e8e0c0" stroke-width="1"/>
<circle cx="507.40" cy="196.00" r="3.3" fill="none" stroke="#e8e0c0" stroke-width="1"/>
<circle cx="507.40" cy="196.00" r="1.2" fill="#e8e0c0"/></g>
<g opacity="0.28"><circle cx="457.10" cy="243.00" r="10" fill="#d0e4b0"/>
<circle cx="457.10" cy="243.00" r="6.6" fill="none" stroke="#e8e0c0" stroke-width="1"/>
<circle cx="457.10" cy="243.00" r="3.3" fill="none" stroke="#e8e0c0" stroke-width="1"/>
<circle cx="457.10" cy="243.00" r="1.2" fill="#e8e0c0"/></g>
<circle cx="457.1" cy="196.0" r="27" fill="url(#rgc)"/><circle cx="457.1" cy="196.0" r="23" fill="none" stroke="#6a6a6a" stroke-width="0.45"/><circle cx="457.1" cy="196.0" r="10.5" fill="#e8142a" filter="url(#b05)"/><circle cx="457.1" cy="196.0" r="7" fill="none" stroke="#ff5a6a" stroke-width="0.9"/><circle cx="457.1" cy="196.0" r="3.5" fill="none" stroke="#901020" stroke-width="1"/>
<line x1="407.5" y1="196.00" x2="457.10" y2="196.00" stroke="#111" stroke-width="0.8"/>
<circle cx="407.5" cy="196.00" r="1" fill="#111"/>
<circle cx="419.7" cy="196.00" r="1" fill="#111"/>
<circle cx="434.2" cy="196.00" r="1" fill="#111"/>
<text class="se" x="406.5" y="194.00" font-size="8.6" fill="#111">III</text>
<text class="se" x="422.8" y="194.00" font-size="8.6" fill="#111">II</text>
<text class="se" x="440" y="194.00" font-size="8.6" fill="#111">I</text>
<path d="M202 110.2 Q212 123 202.3 135.6" fill="none" stroke="#e41414" stroke-width="2" stroke-linecap="round"/>
<path d="M199.5 133.2 L203.70000000000002 132.2 L201.9 137.0 Z" fill="#e41414"/>
<path d="M355.5 110.8 Q365.5 123 356 136" fill="none" stroke="#e41414" stroke-width="2" stroke-linecap="round"/>
<path d="M353.2 133.6 L357.4 132.6 L355.6 137.4 Z" fill="#e41414"/>
<path d="M510 110.5 Q520 123 511 136" fill="none" stroke="#e41414" stroke-width="2" stroke-linecap="round"/>
<path d="M508.2 133.6 L512.4 132.6 L510.6 137.4 Z" fill="#e41414"/>
<rect x="139" y="263.6" width="273.3" height="4.4" fill="url(#cbar)"/>
<text class="se" x="114.6" y="269.8" font-size="9.7" font-weight="bold" fill="#222">30&#176;C</text>
<text class="se" x="416.4" y="269.8" font-size="9.2" font-weight="bold" fill="#222">200&#176;C</text>
<text x="71.7" y="280" font-size="9.4" font-weight="bold" fill="#111">0s</text>
<text x="171.4" y="280" font-size="9.4" font-weight="bold" fill="#111">300s</text>
<text x="271.3" y="280" font-size="9.4" font-weight="bold" fill="#111">600s</text>
<text x="361.4" y="280" font-size="9.4" font-weight="bold" fill="#111">1200s</text>
<text x="467" y="280" font-size="9.4" font-weight="bold" fill="#111">1800s</text>
<defs>
<clipPath id="cp00"><rect x="0" y="0" width="99.90" height="84.90"/></clipPath>
<clipPath id="cp01"><rect x="0" y="0" width="99.90" height="84.90"/></clipPath>
<clipPath id="cp02"><rect x="0" y="0" width="99.90" height="84.90"/></clipPath>
<clipPath id="cp03"><rect x="0" y="0" width="99.90" height="84.90"/></clipPath>
<clipPath id="cp04"><rect x="0" y="0" width="99.90" height="84.90"/></clipPath>
<clipPath id="cp10"><rect x="0" y="0" width="99.90" height="85.60"/></clipPath>
<clipPath id="cp11"><rect x="0" y="0" width="99.90" height="85.60"/></clipPath>
<clipPath id="cp12"><rect x="0" y="0" width="99.90" height="85.60"/></clipPath>
<clipPath id="cp13"><rect x="0" y="0" width="99.90" height="85.60"/></clipPath>
<clipPath id="cp14"><rect x="0" y="0" width="99.90" height="85.60"/></clipPath>
<clipPath id="cp20"><rect x="0" y="0" width="99.90" height="85.30"/></clipPath>
<clipPath id="cp21"><rect x="0" y="0" width="99.90" height="85.30"/></clipPath>
<clipPath id="cp22"><rect x="0" y="0" width="99.90" height="85.30"/></clipPath>
<clipPath id="cp23"><rect x="0" y="0" width="99.90" height="85.30"/></clipPath>
<clipPath id="cp24"><rect x="0" y="0" width="99.90" height="85.30"/></clipPath>
</defs>
<rect x="27.8" y="282.8" width="498" height="84.90" fill="#0a1ec8"/>
<rect x="27.8" y="370.4" width="498" height="85.60" fill="#0a1ec8"/>
<rect x="27.8" y="458.4" width="498" height="85.30" fill="#0a1ec8"/>
<rect x="27.8" y="367.7" width="498" height="2.7" fill="#e4e4e4"/>
<rect x="27.8" y="456.0" width="498" height="2.4" fill="#e4e4e4"/>
<g transform="translate(27.80 282.80)" clip-path="url(#cp00)">
<rect x="-5" y="-5" width="110" height="95" fill="#0a24d0"/><rect x="8" y="5" width="78" height="76" fill="#1856ec" filter="url(#b2)"/><rect x="11" y="7.5" width="72" height="70" fill="#2066f0" filter="url(#b2)"/><g fill="#1a58ec" stroke="#3a92f8" stroke-width="3.2" filter="url(#b15)" opacity="0.7"><circle cx="19" cy="17" r="6.3"/><circle cx="19" cy="35.5" r="6.3"/><circle cx="19" cy="54" r="6.3"/><circle cx="19" cy="71" r="6.3"/><circle cx="36.5" cy="17" r="6.3"/><circle cx="36.5" cy="35.5" r="6.3"/><circle cx="36.5" cy="54" r="6.3"/><circle cx="36.5" cy="71" r="6.3"/><circle cx="54" cy="17" r="6.3"/><circle cx="54" cy="71" r="6.3"/><circle cx="71.5" cy="17" r="6.3"/><circle cx="71.5" cy="35.5" r="6.3"/><circle cx="71.5" cy="54" r="6.3"/><circle cx="71.5" cy="71" r="6.3"/></g><g fill="#0a2cc8" filter="url(#b1)" opacity="0.9"><ellipse cx="88" cy="19.6" rx="4" ry="4"/><ellipse cx="88" cy="36" rx="4" ry="4"/><ellipse cx="88" cy="53" rx="4" ry="4"/><ellipse cx="86" cy="70" rx="4" ry="4"/><ellipse cx="54.8" cy="4.8" rx="4" ry="2.5"/><ellipse cx="71.5" cy="4.8" rx="4" ry="2.5"/><ellipse cx="36" cy="4.8" rx="4" ry="2.5"/></g><ellipse cx="55" cy="40" rx="13" ry="14" fill="#38c0ea" filter="url(#b3)" opacity="0.75"/><path d="M55.6 52 L55.5 62 L55 81.5 L16 82" fill="none" stroke="#48d8b8" stroke-width="7" stroke-linecap="round" stroke-linejoin="round" filter="url(#b2)" opacity="0.85"/><path d="M55.6 52 L55.5 62 L55 81.5 L16 82" fill="none" stroke="#70e8a0" stroke-width="8.0" stroke-linecap="round" stroke-linejoin="round" filter="url(#b2)" opacity="0.8"/><path d="M55.6 52 L55.5 62 L55 81.5 L16 82" fill="none" stroke="#f0e040" stroke-width="5.0" stroke-linecap="round" stroke-linejoin="round" filter="url(#b1)"/><path d="M55.6 52 L55.5 62 L55 81.5 L16 82" fill="none" stroke="#f08018" stroke-width="3.2" stroke-linecap="round" stroke-linejoin="round" filter="url(#b05)"/><path d="M55.6 52 L55.5 62 L55 81.5 L16 82" fill="none" stroke="#d01800" stroke-width="1.7" stroke-linecap="round" stroke-linejoin="round"/><path d="M55.6 52 L55.5 62 L55 81.5 L16 82" fill="none" stroke="#f4e0e0" stroke-width="0.4" stroke-linecap="round" stroke-linejoin="round"/><path d="M55 27.5 C60.5 27.5 63.5 31.5 63.5 36 C63.5 41 59.5 44 57.5 47 L56.6 57 L55.2 60 L54.4 57 L53.6 47 C51 44 46.5 41 46.5 36 C46.5 31.5 49.5 27.5 55 27.5 Z" fill="#80f080" stroke="#80f080" stroke-width="9" filter="url(#b2)" opacity="0.8"/><path d="M55 27.5 C60.5 27.5 63.5 31.5 63.5 36 C63.5 41 59.5 44 57.5 47 L56.6 57 L55.2 60 L54.4 57 L53.6 47 C51 44 46.5 41 46.5 36 C46.5 31.5 49.5 27.5 55 27.5 Z" fill="#f0e040" stroke="#f0e040" stroke-width="5" filter="url(#b1)"/><path d="M55 27.5 C60.5 27.5 63.5 31.5 63.5 36 C63.5 41 59.5 44 57.5 47 L56.6 57 L55.2 60 L54.4 57 L53.6 47 C51 44 46.5 41 46.5 36 C46.5 31.5 49.5 27.5 55 27.5 Z" fill="#f07818" stroke="#f07818" stroke-width="1.8" filter="url(#b05)"/><path d="M55 27.5 C60.5 27.5 63.5 31.5 63.5 36 C63.5 41 59.5 44 57.5 47 L56.6 57 L55.2 60 L54.4 57 L53.6 47 C51 44 46.5 41 46.5 36 C46.5 31.5 49.5 27.5 55 27.5 Z" fill="#fbfbfb" stroke="#c01800" stroke-width="0.7"/><circle cx="51.8" cy="38" r="1.2" fill="none" stroke="#aaa" stroke-width="0.5"/><ellipse cx="23.4" cy="82" rx="2.6" ry="1.3" fill="#fff" stroke="#700" stroke-width="0.7"/>
</g>
<g transform="translate(127.40 282.80)" clip-path="url(#cp01)">
<rect x="-5" y="-5" width="110" height="95" fill="#0a22cc"/><rect x="16" y="3" width="62" height="70" fill="#2680f0" filter="url(#b2)"/><rect x="22" y="5" width="50" height="62" fill="#2e98f0" filter="url(#b3)"/><g fill="#2a80f0" stroke="#58c8f0" stroke-width="2.2" filter="url(#b15)" opacity="0.55"><circle cx="27.5" cy="8.5" r="4.6"/><circle cx="39.6" cy="10.4" r="4.6"/><circle cx="53.5" cy="8.5" r="4.6"/><circle cx="23.8" cy="49.6" r="4.6"/><circle cx="38.5" cy="49.6" r="4.6"/><circle cx="23.8" cy="63.6" r="4.6"/><circle cx="38.5" cy="63.6" r="4.6"/><circle cx="40" cy="22" r="4.6"/><circle cx="24" cy="36" r="4.6"/><circle cx="67" cy="36" r="4.6"/></g><g fill="#0a30d0" filter="url(#b1)" opacity="0.9"><ellipse cx="27.5" cy="23.4" rx="4" ry="3.5"/><ellipse cx="66.5" cy="10.4" rx="4" ry="3.5"/><ellipse cx="79.5" cy="23.4" rx="4" ry="4"/><ellipse cx="68.4" cy="64.5" rx="4" ry="3.5"/><ellipse cx="81" cy="65" rx="4" ry="3.5"/><ellipse cx="66" cy="24" rx="3" ry="3"/></g><ellipse cx="54" cy="55" rx="9" ry="18" fill="#60e0b0" filter="url(#b3)" opacity="0.95"/><ellipse cx="53" cy="39" rx="10" ry="11" fill="#b8f060" filter="url(#b2)"/><path d="M5 77 L12 71 L50 70 L90 71 L98 77 L90 81 L60 83 L12 81 Z" fill="#a8f060" filter="url(#b15)"/><path d="M12 76 L20 72.5 L60 72.5 L86 74 L84 78 L60 80 L20 79.5 Z" fill="#f0b030" filter="url(#b1)"/><path d="M22 76 L30 73.5 L56 73.5 L72 75 L60 78.5 L30 78.5 Z" fill="#f08020" filter="url(#b1)"/><ellipse cx="47.5" cy="76.5" rx="7.5" ry="2.5" fill="#d82808" filter="url(#b1)"/><ellipse cx="47" cy="76.5" rx="3.5" ry="1.3" fill="#900000" filter="url(#b05)"/><path d="M52.5 33.6 C55.5 33.4 57.8 35 58 38.5 C58.3 42 57.6 45 55 45.8 C52.5 46.4 50.2 46.2 49.2 44 C48.2 41.5 48.2 38 49 36 C49.6 34.5 51 33.7 52.5 33.6 Z" fill="#80f080" stroke="#80f080" stroke-width="9" filter="url(#b2)" opacity="0.8"/><path d="M52.5 33.6 C55.5 33.4 57.8 35 58 38.5 C58.3 42 57.6 45 55 45.8 C52.5 46.4 50.2 46.2 49.2 44 C48.2 41.5 48.2 38 49 36 C49.6 34.5 51 33.7 52.5 33.6 Z" fill="#f0e040" stroke="#f0e040" stroke-width="5" filter="url(#b1)"/><path d="M52.5 33.6 C55.5 33.4 57.8 35 58 38.5 C58.3 42 57.6 45 55 45.8 C52.5 46.4 50.2 46.2 49.2 44 C48.2 41.5 48.2 38 49 36 C49.6 34.5 51 33.7 52.5 33.6 Z" fill="#f07818" stroke="#f07818" stroke-width="1.8" filter="url(#b05)"/><path d="M52.5 33.6 C55.5 33.4 57.8 35 58 38.5 C58.3 42 57.6 45 55 45.8 C52.5 46.4 50.2 46.2 49.2 44 C48.2 41.5 48.2 38 49 36 C49.6 34.5 51 33.7 52.5 33.6 Z" fill="#fbfbfb" stroke="#c01800" stroke-width="0.7"/><ellipse cx="58.7" cy="36.5" rx="1.5" ry="2" fill="#2060f0"/>
</g>
<g transform="translate(227.00 282.80)" clip-path="url(#cp02)">
<rect x="-5" y="-5" width="110" height="95" fill="#0a22cc"/><rect x="9" y="3" width="80" height="76" fill="#2478ee" filter="url(#b2)"/><rect x="12" y="5" width="60" height="72" fill="#36b0ee" filter="url(#b3)"/><rect x="24" y="8" width="44" height="64" fill="#40c4e6" filter="url(#b3)"/><g fill="#0a30d0" filter="url(#b1)" opacity="0.95"><ellipse cx="20" cy="25.7" rx="5.5" ry="4.5"/><ellipse cx="21.8" cy="9.9" rx="2.5" ry="2.5"/><ellipse cx="33.9" cy="13.1" rx="2" ry="2"/><ellipse cx="35.3" cy="37.8" rx="4" ry="3.8"/><ellipse cx="48.3" cy="24.3" rx="5" ry="4.5"/><ellipse cx="65.7" cy="23.6" rx="4.5" ry="4"/><ellipse cx="80.7" cy="23.6" rx="5" ry="5"/><ellipse cx="80.7" cy="40.5" rx="5" ry="5"/><ellipse cx="67" cy="8" rx="3" ry="3"/><ellipse cx="80" cy="56" rx="4" ry="4"/></g><g fill="#2a78f0" filter="url(#b1)" opacity="0.9"><ellipse cx="34.4" cy="26.2" rx="5" ry="4.5"/><ellipse cx="70" cy="53.6" rx="4" ry="4"/><ellipse cx="67.6" cy="66.8" rx="4" ry="4"/><ellipse cx="18.8" cy="55.5" rx="4" ry="4"/><ellipse cx="20" cy="40" rx="3.5" ry="3.5"/></g><ellipse cx="55" cy="56" rx="16" ry="24" fill="#90f070" filter="url(#b4)"/><ellipse cx="55" cy="50" rx="9" ry="14" fill="#d8f040" filter="url(#b3)"/><ellipse cx="50" cy="58" rx="7" ry="7" fill="#f09020" filter="url(#b15)"/><ellipse cx="49.5" cy="56" rx="4" ry="3.5" fill="#d83008" filter="url(#b1)"/><path d="M0 80 L14 75 L50 74 L64 75 L90 77 L92 86 L0 86 Z" fill="#b8f050" filter="url(#b2)"/><path d="M2 82 L16 78 L50 77.5 L62 78.5 L58 84 L10 85 Z" fill="#f08a18" filter="url(#b1)"/><path d="M6 82 L58 80.5" fill="none" stroke="#c81000" stroke-width="2.6" stroke-linecap="round" stroke-linejoin="round" filter="url(#b05)"/><path d="M57.5 53 L56 62 L57 70 L57.5 79" fill="none" stroke="#70e8a0" stroke-width="8.3" stroke-linecap="round" stroke-linejoin="round" filter="url(#b2)" opacity="0.8"/><path d="M57.5 53 L56 62 L57 70 L57.5 79" fill="none" stroke="#f0e040" stroke-width="5.3" stroke-linecap="round" stroke-linejoin="round" filter="url(#b1)"/><path d="M57.5 53 L56 62 L57 70 L57.5 79" fill="none" stroke="#f08018" stroke-width="3.5" stroke-linecap="round" stroke-linejoin="round" filter="url(#b05)"/><path d="M57.5 53 L56 62 L57 70 L57.5 79" fill="none" stroke="#d01800" stroke-width="1.9549999999999998" stroke-linecap="round" stroke-linejoin="round"/><path d="M57.5 53 L56 62 L57 70 L57.5 79" fill="none" stroke="#f4e0e0" stroke-width="0.5549999999999999" stroke-linecap="round" stroke-linejoin="round"/><path d="M55.5 37 L59.5 39 L61.8 46 L60 52 L56.5 53.8 L51.5 51.5 L50 45 L52.5 39 Z" fill="#80f080" stroke="#80f080" stroke-width="9" filter="url(#b2)" opacity="0.8"/><path d="M55.5 37 L59.5 39 L61.8 46 L60 52 L56.5 53.8 L51.5 51.5 L50 45 L52.5 39 Z" fill="#f0e040" stroke="#f0e040" stroke-width="5" filter="url(#b1)"/><path d="M55.5 37 L59.5 39 L61.8 46 L60 52 L56.5 53.8 L51.5 51.5 L50 45 L52.5 39 Z" fill="#f07818" stroke="#f07818" stroke-width="1.8" filter="url(#b05)"/><path d="M55.5 37 L59.5 39 L61.8 46 L60 52 L56.5 53.8 L51.5 51.5 L50 45 L52.5 39 Z" fill="#fbfbfb" stroke="#c01800" stroke-width="0.7"/><ellipse cx="57.5" cy="79.6" rx="2.6" ry="2.2" fill="#fff" stroke="#a00" stroke-width="0.8"/>
</g>
<g transform="translate(326.60 282.80)" clip-path="url(#cp03)">
<rect x="-5" y="-5" width="110" height="95" fill="#0a22cc"/><rect x="9" y="2" width="80" height="76" fill="#2c9cf0" filter="url(#b2)"/><rect x="18" y="3" width="64" height="74" fill="#40c6e6" filter="url(#b3)"/><g fill="#0a30d0" filter="url(#b1)" opacity="0.95"><ellipse cx="20.2" cy="6.7" rx="3" ry="2.5"/><ellipse cx="48.4" cy="6.7" rx="3" ry="2.5"/><ellipse cx="65.3" cy="8.6" rx="4" ry="3.5"/><ellipse cx="18.4" cy="21.7" rx="5" ry="4.5"/><ellipse cx="49.3" cy="21.7" rx="6" ry="5"/><ellipse cx="74.7" cy="21.7" rx="5" ry="4.5"/><ellipse cx="76.6" cy="38.6" rx="4" ry="4"/><ellipse cx="76.6" cy="51.8" rx="4" ry="4"/><ellipse cx="76.6" cy="63" rx="4" ry="4"/></g><g fill="#2a80f0" filter="url(#b1)" opacity="0.8"><ellipse cx="20" cy="38" rx="4" ry="4"/><ellipse cx="20" cy="52" rx="4" ry="4"/><ellipse cx="33" cy="52" rx="4" ry="4"/><ellipse cx="20" cy="64" rx="4" ry="4"/><ellipse cx="33" cy="21" rx="4" ry="4"/></g><ellipse cx="50" cy="48" rx="25" ry="22" fill="#a0f060" filter="url(#b4)"/><path d="M26 38 L30 31 L40 31 L48 33 L58 30 L68 31 L71 38 L68 46 L62 52 L56 58 L44 57 L34 48 Z" fill="#f08a1c" filter="url(#b15)"/><ellipse cx="33.9" cy="38.2" rx="7" ry="6.5" fill="#f07818" filter="url(#b1)"/><ellipse cx="63.6" cy="37" rx="6" ry="6" fill="#f07818" filter="url(#b1)"/><ellipse cx="46" cy="50" rx="6" ry="8" fill="#c82808" filter="url(#b15)"/><ellipse cx="58" cy="42" rx="5" ry="6" fill="#d04010" filter="url(#b15)"/><path d="M3 76 L30 72 L50 70 L60 76 L40 80 L10 80 Z" fill="#b0e860" filter="url(#b2)" opacity="0.8"/><path d="M55.4 54 L54.3 68 L59.9 73.6 L71 75.4 L87.8 80.2" fill="none" stroke="#70e8a0" stroke-width="8.8" stroke-linecap="round" stroke-linejoin="round" filter="url(#b2)" opacity="0.8"/><path d="M55.4 54 L54.3 68 L59.9 73.6 L71 75.4 L87.8 80.2" fill="none" stroke="#f0e040" stroke-width="5.8" stroke-linecap="round" stroke-linejoin="round" filter="url(#b1)"/><path d="M55.4 54 L54.3 68 L59.9 73.6 L71 75.4 L87.8 80.2" fill="none" stroke="#f08018" stroke-width="4.0" stroke-linecap="round" stroke-linejoin="round" filter="url(#b05)"/><path d="M55.4 54 L54.3 68 L59.9 73.6 L71 75.4 L87.8 80.2" fill="none" stroke="#d01800" stroke-width="2.38" stroke-linecap="round" stroke-linejoin="round"/><path d="M55.4 54 L54.3 68 L59.9 73.6 L71 75.4 L87.8 80.2" fill="none" stroke="#f4e0e0" stroke-width="0.98" stroke-linecap="round" stroke-linejoin="round"/><path d="M45 37 L51 38.5 L58 36 L61.7 42 L60.5 47 L56.2 55 L50 53 L43.2 49.4 L42.6 43 Z" fill="#80f080" stroke="#80f080" stroke-width="9" filter="url(#b2)" opacity="0.8"/><path d="M45 37 L51 38.5 L58 36 L61.7 42 L60.5 47 L56.2 55 L50 53 L43.2 49.4 L42.6 43 Z" fill="#f0e040" stroke="#f0e040" stroke-width="5" filter="url(#b1)"/><path d="M45 37 L51 38.5 L58 36 L61.7 42 L60.5 47 L56.2 55 L50 53 L43.2 49.4 L42.6 43 Z" fill="#f07818" stroke="#f07818" stroke-width="1.8" filter="url(#b05)"/><path d="M45 37 L51 38.5 L58 36 L61.7 42 L60.5 47 L56.2 55 L50 53 L43.2 49.4 L42.6 43 Z" fill="#fbfbfb" stroke="#c01800" stroke-width="0.7"/>
</g>
<g transform="translate(426.20 282.80)" clip-path="url(#cp04)">
<rect x="-5" y="-5" width="110" height="95" fill="#0a22cc"/><rect x="13" y="2" width="68" height="76" fill="#2aa0ee" filter="url(#b2)"/><rect x="20" y="4" width="56" height="72" fill="#40cae2" filter="url(#b3)"/><g fill="#0a30d0" filter="url(#b1)" opacity="0.95"><ellipse cx="35.5" cy="23.6" rx="4" ry="3.5"/><ellipse cx="48.6" cy="24.5" rx="5" ry="4.5"/><ellipse cx="58" cy="25" rx="5" ry="4.5"/><ellipse cx="72" cy="25" rx="5" ry="4.5"/><ellipse cx="64.5" cy="34.8" rx="3" ry="2.5"/><ellipse cx="73.6" cy="38.6" rx="4" ry="4"/><ellipse cx="24.2" cy="12.3" rx="3" ry="3"/><ellipse cx="59.9" cy="12.3" rx="3" ry="3"/></g><ellipse cx="48" cy="56" rx="30" ry="25" fill="#a8f058" filter="url(#b4)"/><path d="M3 78 L12 70 L50 67 L80 72 L84 78 L70 82 L10 82 Z" fill="#e0e840" filter="url(#b2)"/><path d="M8 79 L24 72 L60 71 L76 76 L60 80 L20 80 Z" fill="#f08018" filter="url(#b15)" opacity="0.95"/><path d="M31 36 L40 31 L52 32 L62 38 L72 44 L73 60 L66 72 L50 76 L36 72 L30 58 Z" fill="#f08a18" filter="url(#b2)"/><path d="M32 40 L40 36 L44 40 L42 56 L48 62 L58 64 L66 62 L64 70 L52 72 L40 66 L33 54 Z" fill="#c02008" filter="url(#b15)"/><path d="M20 76 L40 73 L56 72 L70 76 L58 79 L30 79 Z" fill="#d83808" filter="url(#b1)" opacity="0.8"/><path d="M46.1 39.4 L49.6 38.8 L53 42.2 L54.2 48.5 L58.7 52 L63.3 50.8 L66.7 49.7 L69 52.5 L68.5 56.6 L65.6 59.4 L57.6 60 L48.4 56.6 L42.7 53.1 L41.6 49.7 L41 45.1 L42.7 41.1 Z" fill="#80f080" stroke="#80f080" stroke-width="9" filter="url(#b2)" opacity="0.8"/><path d="M46.1 39.4 L49.6 38.8 L53 42.2 L54.2 48.5 L58.7 52 L63.3 50.8 L66.7 49.7 L69 52.5 L68.5 56.6 L65.6 59.4 L57.6 60 L48.4 56.6 L42.7 53.1 L41.6 49.7 L41 45.1 L42.7 41.1 Z" fill="#f0e040" stroke="#f0e040" stroke-width="5" filter="url(#b1)"/><path d="M46.1 39.4 L49.6 38.8 L53 42.2 L54.2 48.5 L58.7 52 L63.3 50.8 L66.7 49.7 L69 52.5 L68.5 56.6 L65.6 59.4 L57.6 60 L48.4 56.6 L42.7 53.1 L41.6 49.7 L41 45.1 L42.7 41.1 Z" fill="#f07818" stroke="#f07818" stroke-width="1.8" filter="url(#b05)"/><path d="M46.1 39.4 L49.6 38.8 L53 42.2 L54.2 48.5 L58.7 52 L63.3 50.8 L66.7 49.7 L69 52.5 L68.5 56.6 L65.6 59.4 L57.6 60 L48.4 56.6 L42.7 53.1 L41.6 49.7 L41 45.1 L42.7 41.1 Z" fill="#fbfbfb" stroke="#c01800" stroke-width="0.7"/><circle cx="66.7" cy="46.2" r="1.6" fill="#fff" stroke="#a00" stroke-width="0.6"/><circle cx="40.4" cy="46.8" r="1.1" fill="#fff"/>
</g>
<g transform="translate(27.80 370.40)" clip-path="url(#cp10)">
<rect x="-5" y="-5" width="110" height="95" fill="#0818c0"/><rect x="10" y="14" width="68" height="66" fill="#1a4ce8" filter="url(#b2)"/><rect x="14" y="20" width="58" height="56" fill="#1c54ea" filter="url(#b3)"/><g fill="#1a4ce8" stroke="#2e74f2" stroke-width="2.4" filter="url(#b15)" opacity="0.7"><circle cx="17.8" cy="54.7" r="4.8"/><circle cx="32.7" cy="54.7" r="4.8"/><circle cx="17.8" cy="68.6" r="4.8"/><circle cx="32.7" cy="68.6" r="4.8"/><circle cx="17.8" cy="40" r="4.8"/><circle cx="32.7" cy="40" r="4.8"/><circle cx="63" cy="40" r="4.8"/><circle cx="63" cy="54.7" r="4.8"/><circle cx="63" cy="68.6" r="4.8"/><circle cx="48" cy="25" r="4.8"/><circle cx="33" cy="25" r="4.8"/><circle cx="63" cy="25" r="4.8"/></g><g fill="#0a18b0" filter="url(#b1)" opacity="0.95"><ellipse cx="21.5" cy="10.8" rx="4" ry="3.6"/><ellipse cx="34.5" cy="10.8" rx="4" ry="3.6"/><ellipse cx="48.5" cy="10.8" rx="4" ry="3.6"/><ellipse cx="63.3" cy="10.8" rx="4" ry="3.6"/><ellipse cx="78.2" cy="10.8" rx="4" ry="3.6"/><ellipse cx="20.6" cy="24.7" rx="3.6" ry="3.8"/><ellipse cx="78.2" cy="24.7" rx="4" ry="4"/><ellipse cx="77.3" cy="39" rx="4" ry="4"/><ellipse cx="77.3" cy="53.8" rx="4" ry="4"/><ellipse cx="77.3" cy="68" rx="4" ry="4"/></g><path d="M48.5 44 L50 60 L50.5 72 L51.2 79.8" fill="none" stroke="#40d8b0" stroke-width="6" stroke-linecap="round" stroke-linejoin="round" filter="url(#b2)" opacity="0.7"/><path d="M48.8 45 L50 60 L50.5 72 L51.2 79.5" fill="none" stroke="#70e8a0" stroke-width="8.6" stroke-linecap="round" stroke-linejoin="round" filter="url(#b2)" opacity="0.8"/><path d="M48.8 45 L50 60 L50.5 72 L51.2 79.5" fill="none" stroke="#f0e040" stroke-width="5.6" stroke-linecap="round" stroke-linejoin="round" filter="url(#b1)"/><path d="M48.8 45 L50 60 L50.5 72 L51.2 79.5" fill="none" stroke="#f08018" stroke-width="3.8" stroke-linecap="round" stroke-linejoin="round" filter="url(#b05)"/><path d="M48.8 45 L50 60 L50.5 72 L51.2 79.5" fill="none" stroke="#d01800" stroke-width="2.21" stroke-linecap="round" stroke-linejoin="round"/><path d="M48.8 45 L50 60 L50.5 72 L51.2 79.5" fill="none" stroke="#f4e0e0" stroke-width="0.81" stroke-linecap="round" stroke-linejoin="round"/><ellipse cx="51.5" cy="80" rx="2.6" ry="1.8" fill="#e03000" filter="url(#b05)"/><path d="M48.5 34.2 C52 34.2 54.4 36.8 54.4 40 C54.4 43.5 52 46 48.5 46 C45 46 42.6 43.5 42.6 40 C42.6 36.8 45 34.2 48.5 34.2 Z" fill="#80f080" stroke="#80f080" stroke-width="9" filter="url(#b2)" opacity="0.8"/><path d="M48.5 34.2 C52 34.2 54.4 36.8 54.4 40 C54.4 43.5 52 46 48.5 46 C45 46 42.6 43.5 42.6 40 C42.6 36.8 45 34.2 48.5 34.2 Z" fill="#f0e040" stroke="#f0e040" stroke-width="5" filter="url(#b1)"/><path d="M48.5 34.2 C52 34.2 54.4 36.8 54.4 40 C54.4 43.5 52 46 48.5 46 C45 46 42.6 43.5 42.6 40 C42.6 36.8 45 34.2 48.5 34.2 Z" fill="#f07818" stroke="#f07818" stroke-width="1.8" filter="url(#b05)"/><path d="M48.5 34.2 C52 34.2 54.4 36.8 54.4 40 C54.4 43.5 52 46 48.5 46 C45 46 42.6 43.5 42.6 40 C42.6 36.8 45 34.2 48.5 34.2 Z" fill="#fbfbfb" stroke="#c01800" stroke-width="0.7"/><circle cx="47" cy="38.5" r="1.3" fill="none" stroke="#a00" stroke-width="0.5"/>
</g>
<g transform="translate(127.40 370.40)" clip-path="url(#cp11)">
<rect x="-5" y="-5" width="110" height="95" fill="#0818c0"/><rect x="9" y="12" width="68" height="68" fill="#1c5cec" filter="url(#b2)"/><rect x="14" y="16" width="56" height="60" fill="#2068f0" filter="url(#b3)"/><g fill="#2062ee" stroke="#3a88f4" stroke-width="2.3" filter="url(#b15)" opacity="0.65"><circle cx="16.3" cy="53.8" r="4.6"/><circle cx="29.3" cy="53.8" r="4.6"/><circle cx="16.3" cy="67.7" r="4.6"/><circle cx="29.3" cy="67.7" r="4.6"/><circle cx="48.9" cy="20" r="4.6"/><circle cx="33" cy="22" r="4.6"/><circle cx="16.3" cy="39" r="4.6"/><circle cx="62" cy="22" r="4.6"/><circle cx="62" cy="38" r="4.6"/><circle cx="48" cy="60" r="4.6"/></g><g fill="#0a1cb4" filter="url(#b1)" opacity="0.95"><ellipse cx="20" cy="8" rx="4" ry="3.6"/><ellipse cx="34" cy="8" rx="4" ry="3.6"/><ellipse cx="48" cy="8" rx="4" ry="3.6"/><ellipse cx="63" cy="8" rx="4" ry="3.6"/><ellipse cx="77.7" cy="8" rx="4" ry="3.6"/><ellipse cx="19.1" cy="22.8" rx="3.6" ry="3.8"/><ellipse cx="78.6" cy="22.8" rx="4" ry="4"/><ellipse cx="78.6" cy="36.8" rx="4" ry="4"/><ellipse cx="77.7" cy="52" rx="4" ry="4"/><ellipse cx="64.7" cy="65.8" rx="4" ry="3.6"/><ellipse cx="77.7" cy="65.8" rx="4" ry="3.6"/></g><ellipse cx="34" cy="38" rx="9" ry="8" fill="#50e0b0" filter="url(#b3)" opacity="0.95"/><ellipse cx="47" cy="42" rx="12" ry="12" fill="#60e0b0" filter="url(#b3)" opacity="0.6"/><path d="M30 84 L34 77 L46 75.5 L62 77 L67 81 L60 84.5 Z" fill="#a8f060" filter="url(#b15)"/><path d="M36 80 L40 77 L50 77 L56 79 L46 81.5 Z" fill="#f0c030" filter="url(#b1)"/><path d="M44.2 50 L42.5 60 L41.2 70 L40.8 77.5" fill="none" stroke="#70e8a0" stroke-width="9.2" stroke-linecap="round" stroke-linejoin="round" filter="url(#b2)" opacity="0.8"/><path d="M44.2 50 L42.5 60 L41.2 70 L40.8 77.5" fill="none" stroke="#f0e040" stroke-width="6.2" stroke-linecap="round" stroke-linejoin="round" filter="url(#b1)"/><path d="M44.2 50 L42.5 60 L41.2 70 L40.8 77.5" fill="none" stroke="#f08018" stroke-width="4.4" stroke-linecap="round" stroke-linejoin="round" filter="url(#b05)"/><path d="M44.2 50 L42.5 60 L41.2 70 L40.8 77.5" fill="none" stroke="#d01800" stroke-width="2.72" stroke-linecap="round" stroke-linejoin="round"/><ellipse cx="41.5" cy="78" rx="3.5" ry="2" fill="#e04008" filter="url(#b1)"/><path d="M41.5 37.5 L46.5 34 L51.5 34.2 L54.5 37.5 L53.5 44 L49 49.5 L44.5 51 L41 46 L40 41 Z" fill="#80f080" stroke="#80f080" stroke-width="9" filter="url(#b2)" opacity="0.8"/><path d="M41.5 37.5 L46.5 34 L51.5 34.2 L54.5 37.5 L53.5 44 L49 49.5 L44.5 51 L41 46 L40 41 Z" fill="#f0e040" stroke="#f0e040" stroke-width="5" filter="url(#b1)"/><path d="M41.5 37.5 L46.5 34 L51.5 34.2 L54.5 37.5 L53.5 44 L49 49.5 L44.5 51 L41 46 L40 41 Z" fill="#f07818" stroke="#f07818" stroke-width="1.8" filter="url(#b05)"/><path d="M41.5 37.5 L46.5 34 L51.5 34.2 L54.5 37.5 L53.5 44 L49 49.5 L44.5 51 L41 46 L40 41 Z" fill="#fbfbfb" stroke="#c01800" stroke-width="0.7"/>
</g>
<g transform="translate(227.00 370.40)" clip-path="url(#cp12)">
<rect x="-5" y="-5" width="110" height="95" fill="#0818c0"/><rect x="7" y="3" width="70" height="81" fill="#1a50e8" filter="url(#b2)"/><rect x="12" y="14" width="58" height="66" fill="#2470f0" filter="url(#b3)"/><ellipse cx="47" cy="46" rx="25" ry="28" fill="#3ab4ee" filter="url(#b4)"/><ellipse cx="47" cy="42" rx="17" ry="18" fill="#50d0d8" filter="url(#b3)"/><ellipse cx="47" cy="40" rx="11" ry="11" fill="#90ec80" filter="url(#b3)"/><g fill="#0a1cb4" filter="url(#b1)" opacity="0.95"><ellipse cx="18.6" cy="9.8" rx="4.5" ry="4"/><ellipse cx="32.5" cy="9.8" rx="4.5" ry="4"/><ellipse cx="47.4" cy="9.8" rx="4.5" ry="4"/><ellipse cx="62.3" cy="9.8" rx="4.5" ry="4"/><ellipse cx="76.2" cy="9.8" rx="4.5" ry="4"/><ellipse cx="17.7" cy="23.8" rx="3.8" ry="4"/><ellipse cx="76.2" cy="23.8" rx="4" ry="4"/><ellipse cx="76.2" cy="38.6" rx="4" ry="4"/><ellipse cx="76.2" cy="53" rx="4" ry="4"/><ellipse cx="76.2" cy="66" rx="4" ry="3.6"/><ellipse cx="62" cy="66" rx="3.5" ry="3.2"/></g><g fill="#2060ee" filter="url(#b1)" opacity="0.7"><ellipse cx="14" cy="54" rx="3" ry="3"/><ellipse cx="28" cy="54" rx="3" ry="3"/><ellipse cx="32" cy="66" rx="3" ry="3"/></g><path d="M20 82 L28 76 L46 74.5 L66 75 L76 80 L66 84 L30 84.5 Z" fill="#a8f060" filter="url(#b15)"/><path d="M27 80.5 L34 77.5 L50 77 L66 78 L68 80.5 L50 82 L32 82 Z" fill="#f0a020" filter="url(#b1)"/><path d="M31 80 L64 79.6" fill="none" stroke="#d83008" stroke-width="1.8" stroke-linecap="round" stroke-linejoin="round" filter="url(#b05)"/><path d="M41.5 46 L42 57 L43.2 67 L44 77" fill="none" stroke="#70e8a0" stroke-width="9.4" stroke-linecap="round" stroke-linejoin="round" filter="url(#b2)" opacity="0.8"/><path d="M41.5 46 L42 57 L43.2 67 L44 77" fill="none" stroke="#f0e040" stroke-width="6.4" stroke-linecap="round" stroke-linejoin="round" filter="url(#b1)"/><path d="M41.5 46 L42 57 L43.2 67 L44 77" fill="none" stroke="#f08018" stroke-width="4.6" stroke-linecap="round" stroke-linejoin="round" filter="url(#b05)"/><path d="M41.5 46 L42 57 L43.2 67 L44 77" fill="none" stroke="#d01800" stroke-width="2.8899999999999997" stroke-linecap="round" stroke-linejoin="round"/><path d="M53 52 L53 60 L51.5 68 L50 76" fill="none" stroke="#70e8a0" stroke-width="8.6" stroke-linecap="round" stroke-linejoin="round" filter="url(#b2)" opacity="0.8"/><path d="M53 52 L53 60 L51.5 68 L50 76" fill="none" stroke="#f0e040" stroke-width="5.6" stroke-linecap="round" stroke-linejoin="round" filter="url(#b1)"/><path d="M53 52 L53 60 L51.5 68 L50 76" fill="none" stroke="#f08018" stroke-width="3.8" stroke-linecap="round" stroke-linejoin="round" filter="url(#b05)"/><path d="M53 52 L53 60 L51.5 68 L50 76" fill="none" stroke="#d01800" stroke-width="2.21" stroke-linecap="round" stroke-linejoin="round"/><path d="M40 38 L43 34 L46 35 L44 42 L42 50 L39.5 46 Z" fill="#e05010" filter="url(#b05)"/><path d="M43.5 36 L47.5 34 L52.5 35.2 L55.8 41 L53.5 49 L48 52 L43.5 48 L42.5 42 Z" fill="#f07818" stroke="#f07818" stroke-width="1.8" filter="url(#b05)"/><path d="M43.5 36 L47.5 34 L52.5 35.2 L55.8 41 L53.5 49 L48 52 L43.5 48 L42.5 42 Z" fill="#fbfbfb" stroke="#c01800" stroke-width="0.7"/><circle cx="42.5" cy="37.8" r="1.2" fill="#40b0f0"/>
</g>
<g transform="translate(326.60 370.40)" clip-path="url(#cp13)">
<rect x="-5" y="-5" width="110" height="95" fill="#0818c0"/><rect x="7" y="2" width="76" height="82" fill="#2a8ef0" filter="url(#b2)"/><rect x="12" y="5" width="64" height="76" fill="#40c4e4" filter="url(#b3)"/><g fill="#0a2ac8" filter="url(#b1)" opacity="0.8"><ellipse cx="21.8" cy="8" rx="3.6" ry="3.2"/><ellipse cx="34.8" cy="11.7" rx="2.6" ry="2.2"/><ellipse cx="49.7" cy="9.8" rx="4.5" ry="3.6"/><ellipse cx="64.5" cy="9.8" rx="4" ry="3.4"/><ellipse cx="80.3" cy="8.9" rx="3.6" ry="3.6"/><ellipse cx="50.6" cy="21" rx="4.5" ry="4"/><ellipse cx="20.8" cy="22.8" rx="3.2" ry="3.2"/><ellipse cx="80.3" cy="22.8" rx="3.6" ry="3.6"/><ellipse cx="67.3" cy="34.9" rx="1.8" ry="1.8"/><ellipse cx="80.3" cy="36.8" rx="3.6" ry="3.6"/><ellipse cx="80.3" cy="51" rx="3.6" ry="3.6"/><ellipse cx="80.3" cy="65" rx="3.6" ry="3.6"/></g><path d="M50 24 L74 56 L72 80 L28 80 L22 56 Z" fill="#90ec80" filter="url(#b4)"/><ellipse cx="56" cy="44" rx="14" ry="17" fill="#e0ea40" filter="url(#b3)"/><ellipse cx="60" cy="42" rx="6" ry="8" fill="#f0e030" filter="url(#b2)"/><path d="M26 36 L32 30.5 L40 30.5 L43 38 L42 46 L36 49 L28 46 Z" fill="#f09828" filter="url(#b15)"/><ellipse cx="38.5" cy="33.5" rx="2.2" ry="2" fill="#e05010" filter="url(#b05)"/><ellipse cx="52" cy="55.4" rx="4.5" ry="4.5" fill="#f07818" filter="url(#b1)"/><path d="M34 81 L40 75 L50 74.5 L62 76 L72 80 L66 84 L44 84 Z" fill="#f0c030" filter="url(#b15)"/><path d="M40 80.5 L45 76.5 L54 76 L68 78.5 L68 82.5 L50 82 Z" fill="#c81808" filter="url(#b05)"/><ellipse cx="61" cy="80" rx="8" ry="2.6" fill="#900000" filter="url(#b05)"/><path d="M49.3 47.5 L45 54 L43.7 61 L44.6 64 L46.5 69 L48.3 75" fill="none" stroke="#f07818" stroke-width="5.5" stroke-linecap="round" stroke-linejoin="round" filter="url(#b1)"/><path d="M49.3 47.5 L45 54 L43.7 61 L44.6 64 L46.5 69 L48.3 75" fill="none" stroke="#c81808" stroke-width="3.6" stroke-linecap="round" stroke-linejoin="round" filter="url(#b05)"/><path d="M49.5 48.5 L45.8 54.5 L44.5 60.5" fill="none" stroke="#fafafa" stroke-width="1.8" stroke-linecap="round" stroke-linejoin="round"/><ellipse cx="48.7" cy="75.2" rx="1.4" ry="1.9" fill="#fff"/><path d="M49.5 37.7 h4 M51.5 35.7 v4" fill="none" stroke="#f8f0c0" stroke-width="0.5" stroke-linecap="round" stroke-linejoin="round"/>
</g>
<g transform="translate(426.20 370.40)" clip-path="url(#cp14)">
<rect x="-5" y="-5" width="110" height="95" fill="#0818c0"/><rect x="11" y="2" width="68" height="80" fill="#2a94f0" filter="url(#b2)"/><rect x="18" y="4" width="54" height="76" fill="#40c8e4" filter="url(#b3)"/><g fill="#0a22c0" filter="url(#b1)" opacity="0.95"><ellipse cx="68.6" cy="11.7" rx="4" ry="3.5"/><ellipse cx="81.6" cy="25.6" rx="4.5" ry="4"/><ellipse cx="81.6" cy="38.6" rx="4.5" ry="4"/><ellipse cx="81.6" cy="53.8" rx="4.5" ry="4"/><ellipse cx="81.6" cy="67" rx="4.5" ry="4"/><ellipse cx="66" cy="64" rx="3" ry="3"/></g><g fill="#1040e0" filter="url(#None)"><ellipse cx="50" cy="27" rx="1.3" ry="1"/><ellipse cx="54" cy="28.5" rx="1" ry="1"/><ellipse cx="58" cy="31" rx="1.2" ry="1"/><ellipse cx="44" cy="33" rx="1" ry="1"/><ellipse cx="53" cy="31" rx="1" ry="1"/></g><ellipse cx="46" cy="52" rx="27" ry="26" fill="#a8f058" filter="url(#b4)"/><ellipse cx="42" cy="50" rx="16" ry="18" fill="#f0c830" filter="url(#b3)"/><path d="M26 38 L34 32 L46 33 L56 38 L60 50 L56 62 L46 66 L34 60 L26 50 Z" fill="#f0a028" filter="url(#b2)"/><ellipse cx="36" cy="42" rx="7" ry="7" fill="#f08820" filter="url(#b2)"/><path d="M8 82 L16 77 L44 75.5 L62 77 L60 81 L40 83.5 Z" fill="#e0e040" filter="url(#b15)"/><path d="M16 81 L30 78 L46 77 L60 78.5 L46 81 L30 82 Z" fill="#f07818" filter="url(#b1)"/><path d="M40 79 L58 78.5" fill="none" stroke="#c81808" stroke-width="1.4" stroke-linecap="round" stroke-linejoin="round" filter="url(#b05)"/><path d="M44.2 60 L44.8 68 L44.2 77" fill="none" stroke="#f08018" stroke-width="3.8" stroke-linecap="round" stroke-linejoin="round" filter="url(#b05)"/><path d="M44.2 60 L44.8 68 L44.2 77" fill="none" stroke="#d01800" stroke-width="2.21" stroke-linecap="round" stroke-linejoin="round"/><path d="M37 40 L43 35.5 L48.5 39 L49.5 52 L46.5 63 L41 61 L35.5 50 Z" fill="#c81a08" filter="url(#b05)"/><path d="M38.5 42 L43.5 38.5 L47 41.5 L47.5 51 L45.5 59 L42 58 L38 49 Z" fill="#f07818" stroke="#f07818" stroke-width="1.8" filter="url(#b05)"/><path d="M38.5 42 L43.5 38.5 L47 41.5 L47.5 51 L45.5 59 L42 58 L38 49 Z" fill="#fbfbfb" stroke="#c01800" stroke-width="0.7"/>
</g>
<g transform="translate(27.80 458.40)" clip-path="url(#cp20)">
<rect x="-5" y="-5" width="110" height="95" fill="#0a1ab8"/><rect x="-5" y="78" width="110" height="10" fill="#1438d8" filter="url(#b1)"/><path d="M11 2.5 L91 2.5 L91 79 L14 79 Z" fill="#2680ee" filter="url(#b1)"/><path d="M13 5 L89 5 L89 77 L15.5 77 Z" fill="#2e9cf0" filter="url(#b15)"/><rect x="20" y="12" width="62" height="60" fill="#36acee" filter="url(#b4)"/><g fill="#0a20b8" filter="url(#b1)" opacity="0.95"><ellipse cx="22.7" cy="8.5" rx="4.6" ry="3.8"/><ellipse cx="37.7" cy="8.5" rx="4.6" ry="3.8"/><ellipse cx="51.8" cy="8.5" rx="4.6" ry="3.8"/><ellipse cx="65.8" cy="8.5" rx="4.6" ry="3.8"/><ellipse cx="79.9" cy="8.5" rx="4.6" ry="3.8"/><ellipse cx="21.4" cy="22.8" rx="3.6" ry="4"/><ellipse cx="80.5" cy="23.8" rx="4" ry="4"/><ellipse cx="80.5" cy="37.7" rx="4" ry="4"/><ellipse cx="80.2" cy="51.7" rx="3.8" ry="3.6"/></g><g fill="#1c60e0" filter="url(#b1)" opacity="0.75"><ellipse cx="22.5" cy="53.5" rx="3.5" ry="3.5"/><ellipse cx="64" cy="68.6" rx="3.5" ry="3"/><ellipse cx="80" cy="67" rx="3.5" ry="3"/></g><g fill="#1a58e0" filter="url(#b05)" opacity="0.8"><ellipse cx="33" cy="39" rx="1.6" ry="2.2"/><ellipse cx="23.5" cy="37" rx="1.6" ry="1.6"/><ellipse cx="36" cy="27" rx="1.2" ry="1"/></g><ellipse cx="53" cy="37" rx="9" ry="9" fill="#60e0b0" filter="url(#b2)" opacity="0.8"/><circle cx="52.7" cy="36.4" r="6.4" fill="#c8f040" filter="url(#b05)"/><circle cx="52.7" cy="36.4" r="5.2" fill="#f0b020"/><circle cx="52.7" cy="36.4" r="4" fill="#e85010"/><circle cx="52.7" cy="36.8" r="2.6" fill="#d83008"/><circle cx="51.5" cy="35.5" r="0.9" fill="#f8d8c0"/><circle cx="54" cy="38" r="0.9" fill="#f8d8c0"/><circle cx="52.5" cy="38.6" r="0.6" fill="#f8d8c0"/>
</g>
<g transform="translate(127.40 458.40)" clip-path="url(#cp21)">
<rect x="-5" y="-5" width="110" height="95" fill="#0a1ab8"/><rect x="-5" y="78" width="110" height="10" fill="#1438d8" filter="url(#b1)"/><path d="M9 2.5 L91 2.5 L91 79 L12 79 Z" fill="#2680ee" filter="url(#b1)"/><path d="M11 5 L89 5 L89 77 L13.5 77 Z" fill="#2ea4ee" filter="url(#b15)"/><rect x="20" y="12" width="62" height="60" fill="#3cc0e4" filter="url(#b4)"/><g fill="#0a20b8" filter="url(#b1)" opacity="0.95"><ellipse cx="19.1" cy="8.5" rx="4.6" ry="3.8"/><ellipse cx="33" cy="8.5" rx="4.6" ry="3.8"/><ellipse cx="48" cy="8.5" rx="4.6" ry="3.8"/><ellipse cx="62.8" cy="8.5" rx="4.6" ry="3.8"/><ellipse cx="77.7" cy="8.5" rx="4.6" ry="3.8"/><ellipse cx="21.4" cy="22.8" rx="3.6" ry="4"/><ellipse cx="80.5" cy="23.8" rx="4" ry="4"/><ellipse cx="80.5" cy="37.7" rx="4" ry="4"/><ellipse cx="80.2" cy="51.7" rx="3.8" ry="3.6"/></g><g fill="#1c60e0" filter="url(#b1)" opacity="0.75"><ellipse cx="22.5" cy="53.5" rx="3.5" ry="3.5"/><ellipse cx="64" cy="68.6" rx="3.5" ry="3"/><ellipse cx="80" cy="67" rx="3.5" ry="3"/></g><path d="M31 30 L44 20 L60 22 L70 32 L70 50 L62 62 L46 66 L32 58 L28 44 Z" fill="#80e890" filter="url(#b3)"/><ellipse cx="49" cy="46" rx="14" ry="14" fill="#c8f048" filter="url(#b3)"/><ellipse cx="49" cy="46" rx="9" ry="9" fill="#f0b028" filter="url(#b2)"/><path d="M40 38 L47 33 L56 33.5 L59 38 L57 46 L50 50 L42 48 Z" fill="#e05010" filter="url(#b1)"/><path d="M43 39 L49 35 L55 36 L56 41 L51 46 L45 46 Z" fill="#a80a08" filter="url(#b1)"/><circle cx="48.9" cy="37.7" r="0.9" fill="#fff"/><circle cx="50.5" cy="39.5" r="0.7" fill="#fff"/><circle cx="47.5" cy="39.8" r="0.6" fill="#fff"/>
</g>
<g transform="translate(227.00 458.40)" clip-path="url(#cp22)">
<rect x="-5" y="-5" width="110" height="95" fill="#0a1ab8"/><rect x="-5" y="78" width="110" height="10" fill="#1438d8" filter="url(#b1)"/><path d="M10 2.5 L91 2.5 L91 79 L13 79 Z" fill="#2680ee" filter="url(#b1)"/><path d="M12 5 L89 5 L89 77 L14.5 77 Z" fill="#2ea4ee" filter="url(#b15)"/><rect x="20" y="12" width="62" height="60" fill="#3cc0e4" filter="url(#b4)"/><g fill="#0a20b8" filter="url(#b1)" opacity="0.95"><ellipse cx="22.3" cy="8.5" rx="4.6" ry="3.8"/><ellipse cx="36.2" cy="8.5" rx="4.6" ry="3.8"/><ellipse cx="51.1" cy="8.5" rx="4.6" ry="3.8"/><ellipse cx="65" cy="8.5" rx="4.6" ry="3.8"/><ellipse cx="79.9" cy="8.5" rx="4.6" ry="3.8"/><ellipse cx="21.4" cy="22.8" rx="3.6" ry="4"/><ellipse cx="80.5" cy="23.8" rx="4" ry="4"/><ellipse cx="80.5" cy="37.7" rx="4" ry="4"/><ellipse cx="80.2" cy="51.7" rx="3.8" ry="3.6"/><ellipse cx="52" cy="20" rx="4" ry="2.5"/></g><g fill="#1c60e0" filter="url(#b1)" opacity="0.75"><ellipse cx="22.5" cy="53.5" rx="3.5" ry="3.5"/><ellipse cx="64" cy="68.6" rx="3.5" ry="3"/><ellipse cx="80" cy="67" rx="3.5" ry="3"/></g><path d="M28 36 L36 26 L52 24 L68 28 L74 42 L72 56 L62 63 L46 63 L32 56 Z" fill="#80e890" filter="url(#b3)"/><ellipse cx="51" cy="46" rx="15" ry="14" fill="#c8f048" filter="url(#b3)"/><ellipse cx="51" cy="46" rx="9" ry="10" fill="#f0a020" filter="url(#b2)"/><path d="M44 42 L50 37 L57 38 L59 46 L55 54 L47 54 L43 48 Z" fill="#e05010" filter="url(#b1)"/><path d="M46 42 L51 39 L56 41 L56 47 L52 50 L47 49 Z" fill="#a80a08" filter="url(#b1)"/><path d="M51.5 38.6 h3 M53 37.1 v3" fill="none" stroke="#fff" stroke-width="0.5" stroke-linecap="round" stroke-linejoin="round"/>
</g>
<g transform="translate(326.60 458.40)" clip-path="url(#cp23)">
<rect x="-5" y="-5" width="110" height="95" fill="#0a1ab8"/><rect x="-5" y="78" width="110" height="10" fill="#1438d8" filter="url(#b1)"/><path d="M7 2.5 L91 2.5 L91 79 L10 79 Z" fill="#2680ee" filter="url(#b1)"/><path d="M9 5 L89 5 L89 77 L11.5 77 Z" fill="#30a8ec" filter="url(#b15)"/><rect x="20" y="12" width="62" height="60" fill="#44cce0" filter="url(#b4)"/><g fill="#0a20b8" filter="url(#b1)" opacity="0.95"><ellipse cx="18" cy="8.5" rx="4.6" ry="3.8"/><ellipse cx="33" cy="8.5" rx="4.6" ry="3.8"/><ellipse cx="47.8" cy="8.5" rx="4.6" ry="3.8"/><ellipse cx="62.7" cy="8.5" rx="4.6" ry="3.8"/><ellipse cx="78.5" cy="8.5" rx="4.6" ry="3.8"/><ellipse cx="21.4" cy="22.8" rx="3.6" ry="4"/><ellipse cx="80.5" cy="23.8" rx="4" ry="4"/><ellipse cx="80.5" cy="37.7" rx="4" ry="4"/><ellipse cx="80.2" cy="51.7" rx="3.8" ry="3.6"/><ellipse cx="46.9" cy="21" rx="3.6" ry="3"/></g><g fill="#1c60e0" filter="url(#b1)" opacity="0.75"><ellipse cx="22.5" cy="53.5" rx="3.5" ry="3.5"/><ellipse cx="64" cy="68.6" rx="3.5" ry="3"/><ellipse cx="80" cy="67" rx="3.5" ry="3"/></g><path d="M22 40 L30 26 L50 22 L70 28 L76 44 L72 60 L58 66 L36 64 L24 56 Z" fill="#88ec88" filter="url(#b3)"/><ellipse cx="50" cy="44" rx="18" ry="18" fill="#c8f048" filter="url(#b3)"/><path d="M44 26 L52 24 L58 30 L60 46 L57 60 L47 62 L41 52 L41 36 Z" fill="#f0a020" filter="url(#b2)"/><path d="M42 40 L48 36 L55 40 L57 48 L53 55 L45 54 L42 47 Z" fill="#d83008" filter="url(#b1)"/><ellipse cx="49" cy="47" rx="4" ry="5" fill="#a00808" filter="url(#b1)"/><path d="M48.6 37.7 h4 M50.6 35.7 v4" fill="none" stroke="#fff" stroke-width="0.55" stroke-linecap="round" stroke-linejoin="round"/>
</g>
<g transform="translate(426.20 458.40)" clip-path="url(#cp24)">
<rect x="-5" y="-5" width="110" height="95" fill="#0a1ab8"/><rect x="-5" y="78" width="110" height="10" fill="#1438d8" filter="url(#b1)"/><path d="M7 2.5 L91 2.5 L91 79 L10 79 Z" fill="#2680ee" filter="url(#b1)"/><path d="M9 5 L89 5 L89 77 L11.5 77 Z" fill="#32acea" filter="url(#b15)"/><rect x="20" y="12" width="62" height="60" fill="#48d0dc" filter="url(#b4)"/><g fill="#0a20b8" filter="url(#b1)" opacity="0.95"><ellipse cx="18.4" cy="8.5" rx="4.6" ry="3.8"/><ellipse cx="33.3" cy="8.5" rx="4.6" ry="3.8"/><ellipse cx="48.1" cy="8.5" rx="4.6" ry="3.8"/><ellipse cx="63" cy="8.5" rx="4.6" ry="3.8"/><ellipse cx="77.9" cy="8.5" rx="4.6" ry="3.8"/><ellipse cx="21.4" cy="22.8" rx="3.6" ry="4"/><ellipse cx="80.5" cy="23.8" rx="4" ry="4"/><ellipse cx="80.5" cy="37.7" rx="4" ry="4"/><ellipse cx="80.2" cy="51.7" rx="3.8" ry="3.6"/><ellipse cx="48.1" cy="21" rx="3.6" ry="2.6"/><ellipse cx="63" cy="21" rx="3.6" ry="2.6"/></g><g fill="#1c60e0" filter="url(#b1)" opacity="0.75"><ellipse cx="22.5" cy="53.5" rx="3.5" ry="3.5"/><ellipse cx="64" cy="68.6" rx="3.5" ry="3"/><ellipse cx="80" cy="67" rx="3.5" ry="3"/></g><path d="M20 40 L28 26 L50 22 L72 27 L78 44 L74 62 L60 68 L36 66 L22 58 Z" fill="#90ec80" filter="url(#b3)"/><ellipse cx="48" cy="46" rx="21" ry="20" fill="#d0f040" filter="url(#b3)"/><path d="M44 28 L54 26 L60 34 L62 48 L58 62 L48 62 L44 52 L42 38 Z" fill="#f0a020" filter="url(#b2)"/><path d="M46 44 L54 42 L61 46 L60 54 L53 56 L47 52 Z" fill="#c02008" filter="url(#b1)"/><ellipse cx="54" cy="48" rx="5" ry="4.5" fill="#900808" filter="url(#b1)"/><path d="M49.8 39.6 h4 M51.8 37.6 v4" fill="none" stroke="#fff" stroke-width="0.55" stroke-linecap="round" stroke-linejoin="round"/>
</g>
<text class="se" x="14.9" y="295.5" font-size="9" font-weight="bold" fill="#111">(d)</text>
<g transform="translate(19.9 325.5) rotate(90) scale(1 0.78)"><text x="0" y="0" font-size="8.8" font-weight="bold" fill="#111" text-anchor="middle" dominant-baseline="central">PS-Module</text></g>
<g transform="translate(20.9 383.2) rotate(90) scale(1 1)"><text x="0" y="0" font-size="8.5" font-weight="bold" fill="#111" text-anchor="middle" dominant-baseline="central">(e)</text></g>
<g transform="translate(19.5 418) rotate(90) scale(1 0.78)"><text x="0" y="0" font-size="8.8" font-weight="bold" fill="#111" text-anchor="middle" dominant-baseline="central">PSE-Module</text></g>
<g transform="translate(20.9 466.6) rotate(90) scale(1 1)"><text x="0" y="0" font-size="8.5" font-weight="bold" fill="#111" text-anchor="middle" dominant-baseline="central">(f)</text></g>
<g transform="translate(19.5 507.2) rotate(90) scale(1 0.78)"><text x="0" y="0" font-size="9.3" font-weight="bold" fill="#111" text-anchor="middle" dominant-baseline="central">PEF15-Module</text></g>
</svg>
</body></html>
